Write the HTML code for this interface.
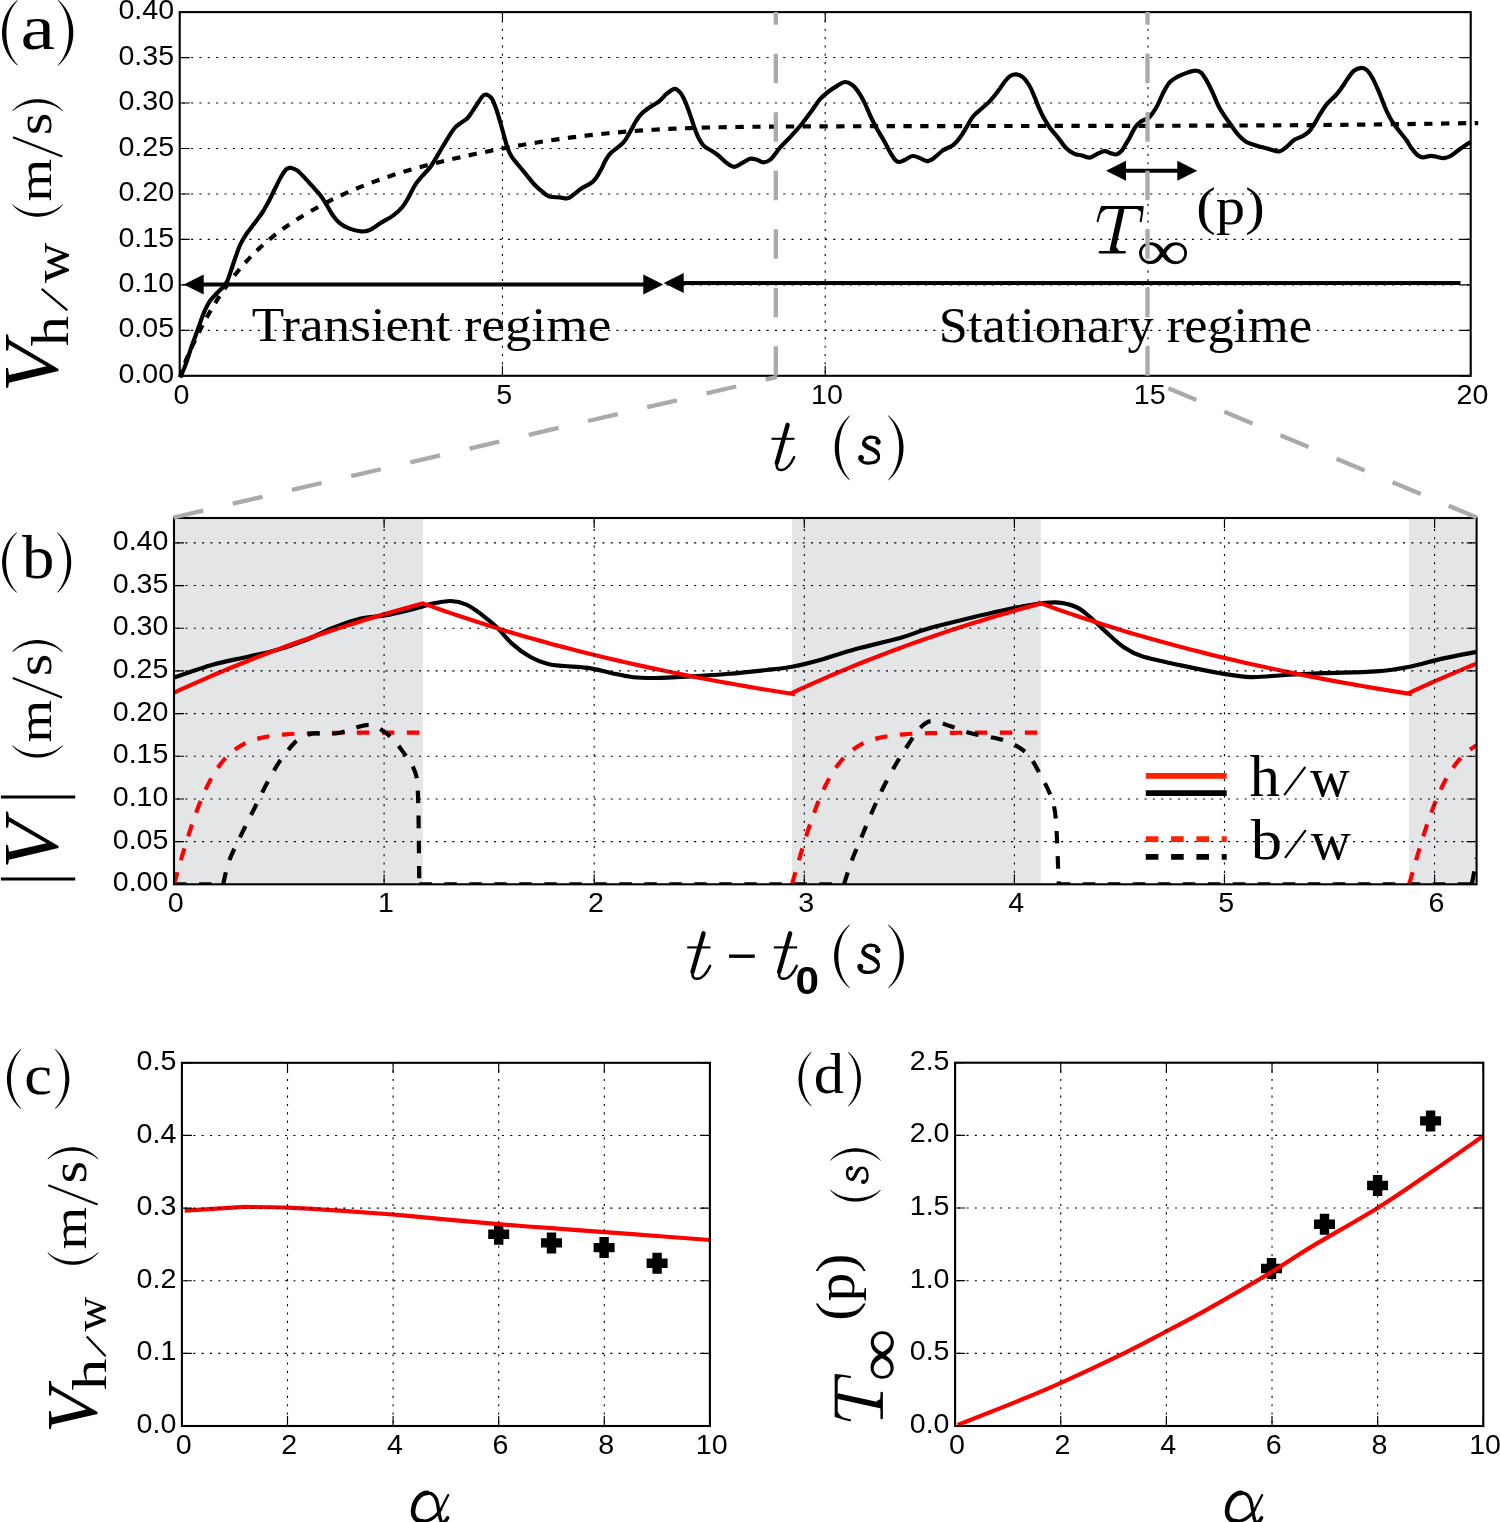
<!DOCTYPE html><html><head><meta charset="utf-8"><style>html,body{margin:0;padding:0;background:#fff;overflow:hidden}svg{display:block;will-change:transform} .tk{font-family:"Liberation Sans",sans-serif;font-size:27.9px}</style></head><body><svg width="1500" height="1522" viewBox="0 0 1500 1522">
<defs>
<clipPath id="clipa"><rect x="179.70" y="12.10" width="1291.00" height="363.70"/></clipPath>
<clipPath id="clipb"><rect x="174.00" y="518.00" width="1302.60" height="366.30"/></clipPath>
<clipPath id="clipc"><rect x="181.90" y="1062.80" width="528.00" height="363.20"/></clipPath>
<clipPath id="clipd"><rect x="955.10" y="1062.70" width="528.20" height="363.30"/></clipPath>
</defs>
<rect width="1500" height="1522" fill="#fff"/>
<rect x="174" y="518.0" width="248.80" height="366.30" fill="#e4e5e7"/>
<rect x="792" y="518.0" width="248.80" height="366.30" fill="#e4e5e7"/>
<rect x="1409.2" y="518.0" width="67.60" height="366.30" fill="#e4e5e7"/>
<g>
<path d="M180.20 377.40C180.63 375.84 181.84 370.86 182.78 368.07C183.72 365.28 184.84 363.08 185.87 360.66C186.90 358.24 187.92 355.86 188.95 353.53C189.98 351.20 191.01 348.91 192.04 346.67C193.07 344.43 194.09 342.24 195.12 340.08C196.15 337.92 197.18 335.81 198.21 333.74C199.24 331.67 200.26 329.64 201.29 327.65C202.32 325.66 203.35 323.71 204.38 321.80C205.41 319.89 206.43 318.02 207.46 316.18C208.49 314.34 209.52 312.54 210.55 310.78C211.58 309.02 212.60 307.30 213.63 305.60C214.66 303.91 215.69 302.24 216.72 300.61C217.75 298.98 218.77 297.38 219.80 295.82C220.83 294.25 221.85 292.72 222.88 291.22C223.91 289.72 224.94 288.25 225.97 286.80C227.00 285.36 228.02 283.94 229.05 282.55C230.08 281.16 231.11 279.80 232.14 278.46C233.17 277.12 234.19 275.81 235.22 274.52C236.25 273.23 237.28 271.97 238.31 270.73C239.34 269.49 240.36 268.27 241.39 267.07C242.42 265.87 243.45 264.70 244.48 263.55C245.51 262.40 246.53 261.27 247.56 260.16C248.59 259.05 249.62 257.96 250.65 256.89C251.68 255.82 252.70 254.78 253.73 253.75C254.76 252.72 255.79 251.71 256.82 250.72C257.85 249.73 258.87 248.75 259.90 247.79C260.93 246.83 261.95 245.90 262.98 244.98C264.01 244.06 265.04 243.15 266.07 242.26C267.10 241.37 268.12 240.50 269.15 239.64C270.18 238.78 271.21 237.94 272.24 237.11C273.27 236.28 274.29 235.46 275.32 234.66C276.35 233.86 277.38 233.07 278.41 232.29C279.44 231.51 280.46 230.75 281.49 230.00C282.52 229.25 283.55 228.51 284.58 227.78C285.61 227.05 286.63 226.34 287.66 225.63C288.69 224.92 289.72 224.23 290.75 223.54C291.78 222.85 292.80 222.17 293.83 221.50C294.86 220.83 295.89 220.17 296.92 219.52C297.95 218.87 298.99 218.21 300.00 217.58C301.01 216.95 300.80 217.03 303.00 215.73C305.20 214.42 309.79 211.68 313.18 209.75C316.57 207.82 319.97 205.97 323.36 204.17C326.75 202.37 330.15 200.64 333.54 198.97C336.93 197.30 340.33 195.69 343.72 194.14C347.11 192.59 350.51 191.09 353.90 189.65C357.29 188.21 360.69 186.81 364.08 185.47C367.47 184.12 370.87 182.83 374.26 181.58C377.65 180.33 381.05 179.13 384.44 177.97C387.83 176.81 391.23 175.69 394.62 174.60C398.01 173.51 401.40 172.46 404.79 171.45C408.18 170.44 411.58 169.46 414.97 168.51C418.36 167.56 421.76 166.64 425.15 165.74C428.54 164.84 431.94 163.98 435.33 163.13C438.72 162.28 442.12 161.46 445.51 160.65C448.90 159.84 452.30 159.06 455.69 158.28C459.08 157.50 462.48 156.75 465.87 156.00C469.26 155.25 472.66 154.53 476.05 153.81C479.44 153.09 482.84 152.39 486.23 151.70C489.62 151.01 493.02 150.33 496.41 149.67C499.80 149.01 503.20 148.36 506.59 147.73C509.98 147.10 513.38 146.48 516.77 145.88C520.16 145.28 523.56 144.69 526.95 144.12C530.34 143.55 533.74 142.99 537.13 142.45C540.52 141.91 543.92 141.37 547.31 140.86C550.70 140.35 554.10 139.85 557.49 139.37C560.88 138.89 564.28 138.41 567.67 137.96C571.06 137.51 574.46 137.07 577.85 136.65C581.24 136.23 584.64 135.82 588.03 135.43C591.42 135.04 594.82 134.66 598.21 134.30C601.60 133.94 604.99 133.59 608.38 133.26C611.77 132.93 615.17 132.61 618.56 132.31C621.95 132.01 625.35 131.73 628.74 131.46C632.13 131.19 635.53 130.94 638.92 130.70C642.31 130.46 645.71 130.24 649.10 130.03C652.49 129.82 655.89 129.62 659.28 129.43C662.67 129.24 666.07 129.07 669.46 128.91C672.85 128.75 676.25 128.60 679.64 128.46C683.03 128.32 686.43 128.20 689.82 128.08C693.21 127.96 694.97 127.89 700.00 127.75C705.03 127.61 710.08 127.42 720.00 127.25C729.92 127.08 746.34 126.84 759.51 126.71C772.68 126.58 785.85 126.53 799.02 126.46C812.19 126.39 825.36 126.34 838.53 126.30C851.70 126.25 864.87 126.22 878.04 126.19C891.21 126.16 904.38 126.12 917.55 126.10C930.72 126.08 943.89 126.06 957.06 126.05C970.23 126.03 983.40 126.02 996.57 126.01C1009.74 126.00 1022.91 125.98 1036.08 125.97C1049.25 125.96 1062.42 125.95 1075.59 125.93C1088.76 125.92 1101.94 125.90 1115.11 125.88C1128.28 125.86 1141.45 125.83 1154.62 125.80C1167.79 125.77 1180.96 125.73 1194.13 125.69C1207.30 125.64 1220.47 125.59 1233.64 125.53C1246.81 125.47 1259.98 125.40 1273.15 125.32C1286.32 125.24 1299.49 125.15 1312.66 125.05C1325.83 124.95 1339.00 124.83 1352.17 124.70C1365.34 124.57 1378.51 124.43 1391.68 124.27C1404.85 124.11 1418.02 123.93 1431.19 123.74C1444.36 123.55 1462.87 123.22 1470.70 123.11C1478.54 123.00 1476.95 123.06 1478.20 123.05" stroke="#000" stroke-width="4.17" fill="none" stroke-dasharray="8.3 8.5" stroke-dashoffset="1.7"/>
<path d="M180.20 377.40C181.10 375.27 183.70 369.75 185.60 364.60C187.50 359.45 189.58 352.30 191.60 346.50C193.62 340.70 195.68 335.35 197.70 329.80C199.72 324.25 201.68 317.98 203.70 313.20C205.72 308.42 207.53 304.50 209.80 301.10C212.07 297.70 215.03 295.18 217.30 292.80C219.57 290.42 221.77 288.68 223.40 286.80C225.03 284.92 225.85 284.15 227.10 281.50C228.35 278.85 229.50 274.93 230.90 270.90C232.30 266.87 233.98 261.58 235.50 257.30C237.02 253.02 238.25 248.98 240.00 245.20C241.75 241.42 243.48 238.38 246.00 234.60C248.52 230.82 252.32 226.27 255.10 222.50C257.88 218.73 260.43 215.52 262.70 212.00C264.97 208.48 266.70 205.18 268.70 201.40C270.70 197.62 272.68 193.33 274.70 189.30C276.72 185.27 278.78 180.60 280.80 177.20C282.82 173.80 285.03 170.43 286.80 168.90C288.57 167.37 289.70 167.75 291.40 168.00C293.10 168.25 295.00 169.00 297.00 170.40C299.00 171.80 301.00 173.93 303.40 176.40C305.80 178.87 308.87 182.40 311.40 185.20C313.93 188.00 316.60 190.80 318.60 193.20C320.60 195.60 321.80 197.20 323.40 199.60C325.00 202.00 326.60 204.93 328.20 207.60C329.80 210.27 331.13 213.07 333.00 215.60C334.87 218.13 336.73 220.67 339.40 222.80C342.07 224.93 345.40 226.97 349.00 228.40C352.60 229.83 357.53 231.13 361.00 231.40C364.47 231.67 366.47 231.43 369.80 230.00C373.13 228.57 377.13 225.20 381.00 222.80C384.87 220.40 389.43 218.23 393.00 215.60C396.57 212.97 399.77 210.12 402.40 207.00C405.03 203.88 406.67 200.58 408.80 196.90C410.93 193.22 412.90 188.43 415.20 184.90C417.50 181.37 420.13 178.62 422.60 175.70C425.07 172.78 427.70 170.47 430.00 167.40C432.30 164.33 434.25 160.82 436.40 157.30C438.55 153.78 440.60 150.13 442.90 146.30C445.20 142.47 448.07 137.53 450.20 134.30C452.33 131.07 453.55 129.05 455.70 126.90C457.85 124.75 460.95 123.08 463.10 121.40C465.25 119.72 466.45 119.40 468.60 116.80C470.75 114.20 473.85 109.02 476.00 105.80C478.15 102.58 479.93 99.38 481.50 97.50C483.07 95.62 483.77 94.43 485.40 94.50C487.03 94.57 489.60 95.77 491.30 97.90C493.00 100.03 494.17 103.45 495.60 107.30C497.03 111.15 498.47 116.15 499.90 121.00C501.33 125.85 502.92 131.85 504.20 136.40C505.48 140.95 506.33 144.88 507.60 148.30C508.87 151.72 510.10 154.20 511.80 156.90C513.50 159.60 515.37 161.52 517.80 164.50C520.23 167.48 523.55 171.38 526.40 174.80C529.25 178.22 532.20 182.15 534.90 185.00C537.60 187.85 540.18 189.97 542.60 191.90C545.02 193.83 546.55 195.68 549.40 196.60C552.25 197.52 556.65 197.12 559.70 197.40C562.75 197.68 565.37 198.78 567.70 198.30C570.03 197.82 571.42 196.13 573.70 194.50C575.98 192.87 578.57 190.37 581.40 188.50C584.23 186.63 588.28 185.02 590.70 183.30C593.12 181.58 594.18 180.47 595.90 178.20C597.62 175.93 599.30 172.83 601.00 169.70C602.70 166.57 604.40 162.25 606.10 159.40C607.80 156.55 608.92 154.87 611.20 152.60C613.48 150.33 617.52 147.80 619.80 145.80C622.08 143.80 623.05 143.17 624.90 140.60C626.75 138.03 629.05 133.67 630.90 130.40C632.75 127.13 634.30 123.70 636.00 121.00C637.70 118.30 638.82 116.48 641.10 114.20C643.38 111.92 646.70 109.43 649.70 107.30C652.70 105.17 656.25 103.67 659.10 101.40C661.95 99.13 664.18 95.80 666.80 93.70C669.42 91.60 672.53 88.95 674.80 88.80C677.07 88.65 678.67 90.67 680.40 92.80C682.13 94.93 683.60 98.00 685.20 101.60C686.80 105.20 688.53 110.27 690.00 114.40C691.47 118.53 692.67 122.67 694.00 126.40C695.33 130.13 696.40 133.60 698.00 136.80C699.60 140.00 701.33 143.27 703.60 145.60C705.87 147.93 709.20 149.20 711.60 150.80C714.00 152.40 715.60 153.27 718.00 155.20C720.40 157.13 723.33 160.47 726.00 162.40C728.67 164.33 731.33 166.67 734.00 166.80C736.67 166.93 739.33 164.53 742.00 163.20C744.67 161.87 747.60 159.40 750.00 158.80C752.40 158.20 754.13 159.00 756.40 159.60C758.67 160.20 761.20 162.47 763.60 162.40C766.00 162.33 768.00 161.73 770.80 159.20C773.60 156.67 777.13 150.93 780.40 147.20C783.67 143.47 786.73 140.80 790.40 136.80C794.07 132.80 798.80 127.60 802.40 123.20C806.00 118.80 809.07 114.40 812.00 110.40C814.93 106.40 817.33 102.27 820.00 99.20C822.67 96.13 825.07 94.27 828.00 92.00C830.93 89.73 834.80 87.27 837.60 85.60C840.40 83.93 842.40 82.13 844.80 82.00C847.20 81.87 849.73 83.13 852.00 84.80C854.27 86.47 856.40 89.20 858.40 92.00C860.40 94.80 862.00 97.60 864.00 101.60C866.00 105.60 868.40 111.73 870.40 116.00C872.40 120.27 873.73 123.07 876.00 127.20C878.27 131.33 881.60 136.53 884.00 140.80C886.40 145.07 888.53 149.60 890.40 152.80C892.27 156.00 893.77 158.47 895.20 160.00C896.63 161.53 897.43 162.00 899.00 162.00C900.57 162.00 902.33 161.00 904.60 160.00C906.87 159.00 909.93 156.27 912.60 156.00C915.27 155.73 918.20 157.53 920.60 158.40C923.00 159.27 924.87 161.20 927.00 161.20C929.13 161.20 930.73 160.20 933.40 158.40C936.07 156.60 939.67 152.67 943.00 150.40C946.33 148.13 950.47 147.07 953.40 144.80C956.33 142.53 958.33 139.87 960.60 136.80C962.87 133.73 964.87 129.87 967.00 126.40C969.13 122.93 971.00 118.93 973.40 116.00C975.80 113.07 978.73 111.20 981.40 108.80C984.07 106.40 986.73 104.40 989.40 101.60C992.07 98.80 994.73 95.47 997.40 92.00C1000.07 88.53 1003.27 83.47 1005.40 80.80C1007.53 78.13 1008.37 77.07 1010.20 76.00C1012.03 74.93 1014.30 74.20 1016.40 74.40C1018.50 74.60 1020.80 75.60 1022.80 77.20C1024.80 78.80 1026.67 81.27 1028.40 84.00C1030.13 86.73 1031.60 90.00 1033.20 93.60C1034.80 97.20 1036.27 101.60 1038.00 105.60C1039.73 109.60 1041.60 113.87 1043.60 117.60C1045.60 121.33 1047.60 124.67 1050.00 128.00C1052.40 131.33 1055.33 134.27 1058.00 137.60C1060.67 140.93 1063.33 145.33 1066.00 148.00C1068.67 150.67 1071.33 152.33 1074.00 153.60C1076.67 154.87 1079.33 154.93 1082.00 155.60C1084.67 156.27 1087.60 157.80 1090.00 157.60C1092.40 157.40 1094.00 155.47 1096.40 154.40C1098.80 153.33 1102.00 151.40 1104.40 151.20C1106.80 151.00 1108.80 152.67 1110.80 153.20C1112.80 153.73 1114.53 154.87 1116.40 154.40C1118.27 153.93 1120.27 152.40 1122.00 150.40C1123.73 148.40 1125.50 144.57 1126.80 142.40C1128.10 140.23 1128.37 139.97 1129.80 137.40C1131.23 134.83 1133.53 129.67 1135.40 127.00C1137.27 124.33 1138.87 122.87 1141.00 121.40C1143.13 119.93 1146.20 119.67 1148.20 118.20C1150.20 116.73 1151.40 114.87 1153.00 112.60C1154.60 110.33 1156.07 107.93 1157.80 104.60C1159.53 101.27 1161.40 96.33 1163.40 92.60C1165.40 88.87 1167.40 84.87 1169.80 82.20C1172.20 79.53 1174.87 78.20 1177.80 76.60C1180.73 75.00 1184.47 73.60 1187.40 72.60C1190.33 71.60 1193.13 70.60 1195.40 70.60C1197.67 70.60 1199.13 70.93 1201.00 72.60C1202.87 74.27 1204.60 77.13 1206.60 80.60C1208.60 84.07 1211.00 89.13 1213.00 93.40C1215.00 97.67 1216.60 102.33 1218.60 106.20C1220.60 110.07 1222.87 113.40 1225.00 116.60C1227.13 119.80 1229.40 122.60 1231.40 125.40C1233.40 128.20 1234.63 130.73 1237.00 133.40C1239.37 136.07 1242.43 139.40 1245.60 141.40C1248.77 143.40 1252.53 144.27 1256.00 145.40C1259.47 146.53 1262.53 147.20 1266.40 148.20C1270.27 149.20 1275.87 151.60 1279.20 151.40C1282.53 151.20 1283.87 148.93 1286.40 147.00C1288.93 145.07 1291.73 141.60 1294.40 139.80C1297.07 138.00 1300.00 137.53 1302.40 136.20C1304.80 134.87 1306.80 133.87 1308.80 131.80C1310.80 129.73 1312.53 126.73 1314.40 123.80C1316.27 120.87 1318.00 117.40 1320.00 114.20C1322.00 111.00 1323.73 107.80 1326.40 104.60C1329.07 101.40 1333.47 97.80 1336.00 95.00C1338.53 92.20 1339.60 90.60 1341.60 87.80C1343.60 85.00 1346.00 81.00 1348.00 78.20C1350.00 75.40 1351.37 72.73 1353.60 71.00C1355.83 69.27 1359.17 67.93 1361.40 67.80C1363.63 67.67 1365.13 68.47 1367.00 70.20C1368.87 71.93 1370.73 74.87 1372.60 78.20C1374.47 81.53 1376.47 86.20 1378.20 90.20C1379.93 94.20 1381.53 98.60 1383.00 102.20C1384.47 105.80 1385.40 108.47 1387.00 111.80C1388.60 115.13 1390.47 118.87 1392.60 122.20C1394.73 125.53 1397.53 128.87 1399.80 131.80C1402.07 134.73 1404.20 137.00 1406.20 139.80C1408.20 142.60 1409.93 146.07 1411.80 148.60C1413.67 151.13 1415.53 153.53 1417.40 155.00C1419.27 156.47 1420.73 157.27 1423.00 157.40C1425.27 157.53 1428.60 155.87 1431.00 155.80C1433.40 155.73 1435.27 156.60 1437.40 157.00C1439.53 157.40 1441.53 158.40 1443.80 158.20C1446.07 158.00 1448.47 157.20 1451.00 155.80C1453.53 154.40 1455.72 152.12 1459.00 149.80C1462.28 147.48 1468.75 143.22 1470.70 141.90" stroke="#000" stroke-width="4.17" fill="none" stroke-linejoin="round"/>
</g>
<path d="M200 284.5H647M680 283.0H1460.5" stroke="#000" stroke-width="4.0" fill="none"/>
<path d="M183.70 284.50L203.70 274.50L203.70 294.50ZM663.30 284.50L643.30 274.50L643.30 294.50ZM663.70 283.00L683.70 273.00L683.70 293.00Z" fill="#000"/>
<path d="M1120 170.7H1183" stroke="#000" stroke-width="4.1" fill="none"/>
<path d="M1106.00 170.70L1126.00 160.70L1126.00 180.70ZM1197.30 170.70L1177.30 160.70L1177.30 180.70Z" fill="#000"/>
<g clip-path="url(#clipb)">
<path d="M174 884.3H223.1M419.3 884.3H844M1057.8 884.3H1471.9" stroke="#000" stroke-width="4.17" stroke-dasharray="12.5 12.5" fill="none"/>
<path d="M174.30 677.50C180.80 675.33 201.02 667.97 213.30 664.50C225.58 661.03 237.30 659.15 248.00 656.70C258.70 654.25 267.97 652.53 277.50 649.80C287.03 647.07 295.67 644.05 305.20 640.30C314.73 636.55 325.45 630.92 334.70 627.30C343.95 623.68 352.03 620.63 360.70 618.60C369.37 616.57 378.03 616.68 386.70 615.10C395.37 613.52 406.72 610.55 412.70 609.10C418.68 607.65 419.05 607.35 422.60 606.40C426.15 605.45 429.30 604.30 434.00 603.40C438.70 602.50 445.40 600.80 450.80 601.00C456.20 601.20 461.20 602.30 466.40 604.60C471.60 606.90 476.80 610.90 482.00 614.80C487.20 618.70 492.60 623.20 497.60 628.00C502.60 632.80 506.60 638.80 512.00 643.60C517.40 648.40 524.00 653.40 530.00 656.80C536.00 660.20 542.33 662.47 548.00 664.00C553.67 665.53 557.33 665.35 564.00 666.00C570.67 666.65 580.00 666.70 588.00 667.90C596.00 669.10 604.45 671.65 612.00 673.20C619.55 674.75 626.18 676.40 633.30 677.20C640.42 678.00 645.80 678.08 654.70 678.00C663.60 677.92 674.70 677.37 686.70 676.70C698.70 676.03 713.37 675.12 726.70 674.00C740.03 672.88 755.60 671.25 766.70 670.00C777.80 668.75 784.42 668.17 793.30 666.50C802.18 664.83 809.55 662.92 820.00 660.00C830.45 657.08 842.67 652.67 856.00 649.00C869.33 645.33 887.67 641.50 900.00 638.00C912.33 634.50 918.33 631.33 930.00 628.00C941.67 624.67 958.33 620.83 970.00 618.00C981.67 615.17 990.00 613.17 1000.00 611.00C1010.00 608.83 1020.67 606.43 1030.00 605.00C1039.33 603.57 1048.33 602.07 1056.00 602.40C1063.67 602.73 1070.33 604.57 1076.00 607.00C1081.67 609.43 1085.07 612.90 1090.00 617.00C1094.93 621.10 1099.97 626.57 1105.60 631.60C1111.23 636.63 1117.73 643.08 1123.80 647.20C1129.87 651.32 1132.47 653.27 1142.00 656.30C1151.53 659.33 1168.00 662.58 1181.00 665.40C1194.00 668.22 1208.30 671.25 1220.00 673.20C1231.70 675.15 1240.37 676.80 1251.20 677.10C1262.03 677.40 1272.87 675.65 1285.00 675.00C1297.13 674.35 1308.83 673.80 1324.00 673.20C1339.17 672.60 1361.70 672.48 1376.00 671.40C1390.30 670.32 1398.97 668.78 1409.80 666.70C1420.63 664.62 1429.83 661.38 1441.00 658.90C1452.17 656.42 1470.83 652.98 1476.80 651.80" stroke="#000" stroke-width="4.17" fill="none"/>
<path d="M174.30 692.60L180.52 689.71L186.74 686.87L192.95 684.06L199.17 681.29L205.39 678.56L211.61 675.87L217.82 673.21L224.04 670.59L230.26 668.01L236.48 665.46L242.69 662.95L248.91 660.47L255.13 658.02L261.35 655.61L267.56 653.24L273.78 650.89L280.00 648.58L286.22 646.29L292.43 644.04L298.65 641.83L304.87 639.64L311.09 637.48L317.30 635.35L323.52 633.25L329.74 631.18L335.96 629.13L342.17 627.12L348.39 625.13L354.61 623.17L360.83 621.24L367.04 619.33L373.26 617.45L379.48 615.60L385.69 613.77L391.91 611.96L398.13 610.19L404.35 608.43L410.57 606.70L416.78 604.99L423.00 603.31L423.00 603.31L432.25 606.65L441.49 609.92L450.74 613.12L459.98 616.26L469.23 619.32L478.47 622.32L487.71 625.26L496.96 628.13L506.20 630.95L515.45 633.70L524.69 636.40L533.94 639.03L543.18 641.62L552.43 644.14L561.67 646.62L570.92 649.04L580.16 651.41L589.41 653.72L598.65 655.99L607.90 658.21L617.14 660.39L626.39 662.52L635.63 664.60L644.88 666.64L654.12 668.63L663.37 670.58L672.62 672.49L681.86 674.36L691.11 676.19L700.35 677.98L709.60 679.74L718.84 681.45L728.08 683.13L737.33 684.78L746.57 686.39L755.82 687.96L765.06 689.50L774.31 691.01L783.55 692.49L792.80 693.93L792.80 692.60L799.00 689.72L805.20 686.88L811.40 684.08L817.60 681.32L823.80 678.60L830.00 675.91L836.20 673.27L842.40 670.65L848.60 668.07L854.80 665.53L861.00 663.03L867.20 660.55L873.40 658.11L879.60 655.71L885.80 653.34L892.00 650.99L898.20 648.69L904.40 646.41L910.60 644.16L916.80 641.95L923.00 639.76L929.20 637.61L935.40 635.48L941.60 633.39L947.80 631.32L954.00 629.28L960.20 627.27L966.40 625.29L972.60 623.33L978.80 621.40L985.00 619.50L991.20 617.62L997.40 615.77L1003.60 613.94L1009.80 612.14L1016.00 610.36L1022.20 608.61L1028.40 606.88L1034.60 605.18L1040.80 603.50L1040.80 603.31L1050.02 606.64L1059.25 609.91L1068.47 613.10L1077.70 616.23L1086.92 619.29L1096.15 622.28L1105.38 625.22L1114.60 628.09L1123.83 630.89L1133.05 633.64L1142.27 636.33L1151.50 638.97L1160.72 641.54L1169.95 644.07L1179.17 646.54L1188.40 648.95L1197.62 651.32L1206.85 653.63L1216.08 655.90L1225.30 658.12L1234.52 660.29L1243.75 662.42L1252.97 664.50L1262.20 666.53L1271.42 668.52L1280.65 670.47L1289.88 672.38L1299.10 674.25L1308.32 676.08L1317.55 677.87L1326.78 679.62L1336.00 681.34L1345.22 683.01L1354.45 684.66L1363.67 686.27L1372.90 687.84L1382.12 689.38L1391.35 690.89L1400.57 692.36L1409.80 693.81L1409.80 692.60L1411.56 691.78L1413.31 690.97L1415.07 690.15L1416.82 689.34L1418.58 688.54L1420.33 687.74L1422.09 686.94L1423.84 686.14L1425.60 685.35L1427.35 684.56L1429.11 683.77L1430.86 682.98L1432.62 682.20L1434.37 681.43L1436.12 680.65L1437.88 679.88L1439.63 679.11L1441.39 678.34L1443.14 677.58L1444.90 676.82L1446.65 676.06L1448.41 675.31L1450.16 674.56L1451.92 673.81L1453.67 673.06L1455.43 672.32L1457.18 671.58L1458.94 670.84L1460.69 670.11L1462.45 669.38L1464.20 668.65L1465.96 667.93L1467.71 667.20L1469.47 666.48L1471.22 665.77L1472.98 665.05L1474.73 664.34L1476.49 663.63L1478.24 662.93L1480.00 662.22" stroke="#ff0000" stroke-width="4.17" fill="none" stroke-linejoin="miter"/>
<path d="M174.00 884.30L178.15 869.74L182.29 855.45L186.44 841.67L190.59 828.62L194.73 816.45L198.88 805.29L203.03 795.19L207.17 786.16L211.32 778.20L215.47 771.23L219.61 765.20L223.76 760.01L227.91 755.58L232.05 751.81L236.20 748.63L240.35 745.95L244.49 743.70L248.64 741.82L252.79 740.25L256.93 738.95L261.08 737.86L265.23 736.96L269.37 736.21L273.52 735.59L277.67 735.08L281.81 734.65L285.96 734.30L290.10 734.01L294.25 733.77L298.40 733.57L302.54 733.41L306.69 733.27L310.84 733.16L314.98 733.07L319.13 732.99L323.28 732.93L327.42 732.88L331.57 732.83L335.72 732.80L339.86 732.77L344.01 732.75L348.16 732.73L352.30 732.71L356.45 732.70L360.60 732.69L364.74 732.68L368.89 732.67L373.04 732.66L377.18 732.66L381.33 732.65L385.48 732.65L389.62 732.65L393.77 732.64L397.92 732.64L402.06 732.64L406.21 732.64L410.36 732.64L414.50 732.64L418.65 732.64L422.80 732.64" stroke="#ff0000" stroke-width="4.17" fill="none" stroke-dasharray="12.5 12.5"/>
<path d="M791.99 884.30L796.14 869.74L800.28 855.45L804.43 841.67L808.58 828.62L812.72 816.45L816.87 805.29L821.02 795.19L825.16 786.16L829.31 778.20L833.46 771.23L837.60 765.20L841.75 760.01L845.90 755.58L850.04 751.81L854.19 748.63L858.34 745.95L862.48 743.70L866.63 741.82L870.78 740.25L874.92 738.95L879.07 737.86L883.22 736.96L887.36 736.21L891.51 735.59L895.66 735.08L899.80 734.65L903.95 734.30L908.10 734.01L912.24 733.77L916.39 733.57L920.54 733.41L924.68 733.27L928.83 733.16L932.98 733.07L937.12 732.99L941.27 732.93L945.41 732.88L949.56 732.83L953.71 732.80L957.85 732.77L962.00 732.75L966.15 732.73L970.29 732.71L974.44 732.70L978.59 732.69L982.73 732.68L986.88 732.67L991.03 732.66L995.17 732.66L999.32 732.65L1003.47 732.65L1007.61 732.65L1011.76 732.64L1015.91 732.64L1020.05 732.64L1024.20 732.64L1028.35 732.64L1032.49 732.64L1036.64 732.64L1040.79 732.64" stroke="#ff0000" stroke-width="4.17" fill="none" stroke-dasharray="12.5 12.5"/>
<path d="M1409.18 884.30L1410.30 880.34L1411.43 876.39L1412.55 872.45L1413.68 868.53L1414.80 864.63L1415.92 860.75L1417.05 856.91L1418.17 853.10L1419.29 849.33L1420.42 845.61L1421.54 841.93L1422.66 838.31L1423.79 834.75L1424.91 831.24L1426.04 827.80L1427.16 824.43L1428.28 821.12L1429.41 817.89L1430.53 814.73L1431.65 811.64L1432.78 808.63L1433.90 805.70L1435.02 802.84L1436.15 800.07L1437.27 797.37L1438.40 794.75L1439.52 792.21L1440.64 789.76L1441.77 787.38L1442.89 785.07L1444.01 782.85L1445.14 780.70L1446.26 778.63L1447.39 776.63L1448.51 774.70L1449.63 772.85L1450.76 771.06L1451.88 769.34L1453.00 767.69L1454.13 766.11L1455.25 764.58L1456.37 763.12L1457.50 761.72L1458.62 760.38L1459.75 759.09L1460.87 757.86L1461.99 756.68L1463.12 755.55L1464.24 754.47L1465.36 753.43L1466.49 752.44L1467.61 751.50L1468.73 750.60L1469.86 749.73L1470.98 748.91L1472.11 748.13L1473.23 747.38L1474.35 746.66L1475.48 745.98L1476.60 745.33" stroke="#ff0000" stroke-width="4.17" fill="none" stroke-dasharray="12.5 12.5"/>
<path d="M223.10 884.30C224.15 880.28 226.25 868.72 229.40 860.20C232.55 851.68 237.80 841.90 242.00 833.20C246.20 824.50 250.40 816.40 254.60 808.00C258.80 799.60 263.00 790.60 267.20 782.80C271.40 775.00 275.60 767.50 279.80 761.20C284.00 754.90 288.98 748.82 292.40 745.00C295.82 741.18 297.00 740.20 300.30 738.30C303.60 736.40 308.17 734.33 312.20 733.60C316.23 732.87 320.27 733.97 324.50 733.90C328.73 733.83 333.38 733.85 337.60 733.20C341.82 732.55 346.40 731.03 349.80 730.00C353.20 728.97 354.90 727.85 358.00 727.00C361.10 726.15 365.40 724.93 368.40 724.90C371.40 724.87 373.03 725.42 376.00 726.80C378.97 728.18 382.95 730.65 386.20 733.20C389.45 735.75 392.70 738.98 395.50 742.10C398.30 745.22 400.52 748.48 403.00 751.90C405.48 755.32 408.30 759.02 410.40 762.60C412.50 766.18 414.43 769.50 415.60 773.40C416.77 777.30 416.93 779.90 417.40 786.00C417.87 792.10 418.08 793.62 418.40 810.00C418.72 826.38 419.15 871.92 419.30 884.30" stroke="#000" stroke-width="4.17" fill="none" stroke-dasharray="12.5 12.5"/>
<path d="M844.00 884.30C845.33 880.25 849.00 868.05 852.00 860.00C855.00 851.95 858.67 844.00 862.00 836.00C865.33 828.00 868.50 820.00 872.00 812.00C875.50 804.00 879.00 796.00 883.00 788.00C887.00 780.00 891.83 771.17 896.00 764.00C900.17 756.83 904.00 751.00 908.00 745.00C912.00 739.00 916.00 732.00 920.00 728.00C924.00 724.00 927.00 721.33 932.00 721.00C937.00 720.67 943.67 724.00 950.00 726.00C956.33 728.00 963.33 731.17 970.00 733.00C976.67 734.83 984.00 735.67 990.00 737.00C996.00 738.33 1001.00 739.17 1006.00 741.00C1011.00 742.83 1016.00 745.33 1020.00 748.00C1024.00 750.67 1026.67 752.67 1030.00 757.00C1033.33 761.33 1036.67 767.83 1040.00 774.00C1043.33 780.17 1047.50 787.67 1050.00 794.00C1052.50 800.33 1053.83 804.33 1055.00 812.00C1056.17 819.67 1056.43 829.33 1057.00 840.00C1057.57 850.67 1058.10 868.62 1058.40 876.00C1058.70 883.38 1058.73 882.92 1058.80 884.30" stroke="#000" stroke-width="4.17" fill="none" stroke-dasharray="12.5 12.5"/>
<path d="M1471.90 883.70L1476.80 858.00" stroke="#000" stroke-width="4.17" fill="none" stroke-dasharray="12.5 12.5"/>
</g>
<line x1="502.45" y1="375.80" x2="502.45" y2="12.10" stroke="#000" stroke-width="1.1" stroke-dasharray="2.1 6.24" stroke-dashoffset="5.3" fill="none"/>
<line x1="825.20" y1="375.80" x2="825.20" y2="12.10" stroke="#000" stroke-width="1.1" stroke-dasharray="2.1 6.24" stroke-dashoffset="5.3" fill="none"/>
<line x1="1147.95" y1="375.80" x2="1147.95" y2="12.10" stroke="#000" stroke-width="1.1" stroke-dasharray="2.1 6.24" stroke-dashoffset="5.3" fill="none"/>
<line x1="179.70" y1="330.34" x2="1470.70" y2="330.34" stroke="#000" stroke-width="1.1" stroke-dasharray="2.1 6.24" stroke-dashoffset="5.3" fill="none"/>
<line x1="179.70" y1="284.88" x2="1470.70" y2="284.88" stroke="#000" stroke-width="1.1" stroke-dasharray="2.1 6.24" stroke-dashoffset="5.3" fill="none"/>
<line x1="179.70" y1="239.41" x2="1470.70" y2="239.41" stroke="#000" stroke-width="1.1" stroke-dasharray="2.1 6.24" stroke-dashoffset="5.3" fill="none"/>
<line x1="179.70" y1="193.95" x2="1470.70" y2="193.95" stroke="#000" stroke-width="1.1" stroke-dasharray="2.1 6.24" stroke-dashoffset="5.3" fill="none"/>
<line x1="179.70" y1="148.49" x2="1470.70" y2="148.49" stroke="#000" stroke-width="1.1" stroke-dasharray="2.1 6.24" stroke-dashoffset="5.3" fill="none"/>
<line x1="179.70" y1="103.02" x2="1470.70" y2="103.02" stroke="#000" stroke-width="1.1" stroke-dasharray="2.1 6.24" stroke-dashoffset="5.3" fill="none"/>
<line x1="179.70" y1="57.56" x2="1470.70" y2="57.56" stroke="#000" stroke-width="1.1" stroke-dasharray="2.1 6.24" stroke-dashoffset="5.3" fill="none"/>
<line x1="384.10" y1="884.30" x2="384.10" y2="518.00" stroke="#000" stroke-width="1.1" stroke-dasharray="2.1 6.24" stroke-dashoffset="5.3" fill="none"/>
<line x1="594.19" y1="884.30" x2="594.19" y2="518.00" stroke="#000" stroke-width="1.1" stroke-dasharray="2.1 6.24" stroke-dashoffset="5.3" fill="none"/>
<line x1="804.29" y1="884.30" x2="804.29" y2="518.00" stroke="#000" stroke-width="1.1" stroke-dasharray="2.1 6.24" stroke-dashoffset="5.3" fill="none"/>
<line x1="1014.39" y1="884.30" x2="1014.39" y2="518.00" stroke="#000" stroke-width="1.1" stroke-dasharray="2.1 6.24" stroke-dashoffset="5.3" fill="none"/>
<line x1="1224.48" y1="884.30" x2="1224.48" y2="518.00" stroke="#000" stroke-width="1.1" stroke-dasharray="2.1 6.24" stroke-dashoffset="5.3" fill="none"/>
<line x1="1434.58" y1="884.30" x2="1434.58" y2="518.00" stroke="#000" stroke-width="1.1" stroke-dasharray="2.1 6.24" stroke-dashoffset="5.3" fill="none"/>
<line x1="174.00" y1="841.62" x2="1476.60" y2="841.62" stroke="#000" stroke-width="1.1" stroke-dasharray="2.1 6.24" stroke-dashoffset="5.3" fill="none"/>
<line x1="174.00" y1="798.95" x2="1476.60" y2="798.95" stroke="#000" stroke-width="1.1" stroke-dasharray="2.1 6.24" stroke-dashoffset="5.3" fill="none"/>
<line x1="174.00" y1="756.27" x2="1476.60" y2="756.27" stroke="#000" stroke-width="1.1" stroke-dasharray="2.1 6.24" stroke-dashoffset="5.3" fill="none"/>
<line x1="174.00" y1="713.60" x2="1476.60" y2="713.60" stroke="#000" stroke-width="1.1" stroke-dasharray="2.1 6.24" stroke-dashoffset="5.3" fill="none"/>
<line x1="174.00" y1="670.92" x2="1476.60" y2="670.92" stroke="#000" stroke-width="1.1" stroke-dasharray="2.1 6.24" stroke-dashoffset="5.3" fill="none"/>
<line x1="174.00" y1="628.25" x2="1476.60" y2="628.25" stroke="#000" stroke-width="1.1" stroke-dasharray="2.1 6.24" stroke-dashoffset="5.3" fill="none"/>
<line x1="174.00" y1="585.57" x2="1476.60" y2="585.57" stroke="#000" stroke-width="1.1" stroke-dasharray="2.1 6.24" stroke-dashoffset="5.3" fill="none"/>
<line x1="174.00" y1="542.90" x2="1476.60" y2="542.90" stroke="#000" stroke-width="1.1" stroke-dasharray="2.1 6.24" stroke-dashoffset="5.3" fill="none"/>
<path d="M1145.8 775.9H1226.7" stroke="#ff2200" stroke-width="5.8"/>
<path d="M1145.8 793.2H1226.7" stroke="#000" stroke-width="5.8"/>
<path d="M1145.8 839.1H1226.7" stroke="#ff2200" stroke-width="5.8" stroke-dasharray="12.6 12.7"/>
<path d="M1145.8 856.8H1226.7" stroke="#000" stroke-width="5.8" stroke-dasharray="12.6 12.7"/>
<path d="M494.00 1223.80H503.40V1229.60H509.20V1239.00H503.40V1244.80H494.00V1239.00H488.20V1229.60H494.00ZM546.80 1232.40H556.20V1238.20H562.00V1247.60H556.20V1253.40H546.80V1247.60H541.00V1238.20H546.80ZM599.40 1237.10H608.80V1242.90H614.60V1252.30H608.80V1258.10H599.40V1252.30H593.60V1242.90H599.40ZM652.40 1252.70H661.80V1258.50H667.60V1267.90H661.80V1273.70H652.40V1267.90H646.60V1258.50H652.40Z" fill="#000"/>
<g clip-path="url(#clipc)"><path d="M184.70 1210.60L244.80 1206.90L244.80 1206.90C252.00 1207.02 272.13 1206.98 288.00 1207.60C303.87 1208.22 322.60 1209.45 340.00 1210.60C357.40 1211.75 374.90 1213.05 392.40 1214.50C409.90 1215.95 427.30 1217.68 445.00 1219.30C462.70 1220.92 480.85 1222.72 498.60 1224.20C516.35 1225.68 533.80 1226.88 551.50 1228.20C569.20 1229.52 587.22 1230.80 604.80 1232.10C622.38 1233.40 639.48 1234.68 657.00 1236.00C674.52 1237.32 701.08 1239.33 709.90 1240.00" stroke="#ff0000" stroke-width="4.17" fill="none" stroke-linejoin="round"/></g>
<line x1="287.50" y1="1426.00" x2="287.50" y2="1062.80" stroke="#000" stroke-width="1.1" stroke-dasharray="2.1 6.24" stroke-dashoffset="5.3" fill="none"/>
<line x1="393.10" y1="1426.00" x2="393.10" y2="1062.80" stroke="#000" stroke-width="1.1" stroke-dasharray="2.1 6.24" stroke-dashoffset="5.3" fill="none"/>
<line x1="498.70" y1="1426.00" x2="498.70" y2="1062.80" stroke="#000" stroke-width="1.1" stroke-dasharray="2.1 6.24" stroke-dashoffset="5.3" fill="none"/>
<line x1="604.30" y1="1426.00" x2="604.30" y2="1062.80" stroke="#000" stroke-width="1.1" stroke-dasharray="2.1 6.24" stroke-dashoffset="5.3" fill="none"/>
<line x1="181.90" y1="1353.36" x2="709.90" y2="1353.36" stroke="#000" stroke-width="1.1" stroke-dasharray="2.1 6.24" stroke-dashoffset="5.3" fill="none"/>
<line x1="181.90" y1="1280.72" x2="709.90" y2="1280.72" stroke="#000" stroke-width="1.1" stroke-dasharray="2.1 6.24" stroke-dashoffset="5.3" fill="none"/>
<line x1="181.90" y1="1208.08" x2="709.90" y2="1208.08" stroke="#000" stroke-width="1.1" stroke-dasharray="2.1 6.24" stroke-dashoffset="5.3" fill="none"/>
<line x1="181.90" y1="1135.44" x2="709.90" y2="1135.44" stroke="#000" stroke-width="1.1" stroke-dasharray="2.1 6.24" stroke-dashoffset="5.3" fill="none"/>
<path d="M1266.80 1258.00H1276.20V1263.80H1282.00V1273.20H1276.20V1279.00H1266.80V1273.20H1261.00V1263.80H1266.80ZM1319.80 1213.70H1329.20V1219.50H1335.00V1228.90H1329.20V1234.70H1319.80V1228.90H1314.00V1219.50H1319.80ZM1372.90 1175.00H1382.30V1180.80H1388.10V1190.20H1382.30V1196.00H1372.90V1190.20H1367.10V1180.80H1372.90ZM1425.90 1110.40H1435.30V1116.20H1441.10V1125.60H1435.30V1131.40H1425.90V1125.60H1420.10V1116.20H1425.90Z" fill="#000"/>
<g clip-path="url(#clipd)"><path d="M957.70 1425.00L1014.80 1402.40L1014.80 1402.40C1022.30 1399.22 1041.80 1391.40 1059.80 1383.30C1077.80 1375.20 1105.10 1362.43 1122.80 1353.80C1140.50 1345.17 1152.80 1338.40 1166.00 1331.50C1179.20 1324.60 1184.42 1322.30 1202.00 1312.40C1219.58 1302.50 1253.50 1282.90 1271.50 1272.10C1289.50 1261.30 1292.32 1258.28 1310.00 1247.60C1327.68 1236.92 1357.80 1220.30 1377.60 1208.00C1397.40 1195.70 1411.18 1185.80 1428.80 1173.80C1446.42 1161.80 1474.22 1142.30 1483.30 1136.00" stroke="#ff0000" stroke-width="4.17" fill="none" stroke-linejoin="round"/></g>
<line x1="1060.74" y1="1426.00" x2="1060.74" y2="1062.70" stroke="#000" stroke-width="1.1" stroke-dasharray="2.1 6.24" stroke-dashoffset="5.3" fill="none"/>
<line x1="1166.38" y1="1426.00" x2="1166.38" y2="1062.70" stroke="#000" stroke-width="1.1" stroke-dasharray="2.1 6.24" stroke-dashoffset="5.3" fill="none"/>
<line x1="1272.02" y1="1426.00" x2="1272.02" y2="1062.70" stroke="#000" stroke-width="1.1" stroke-dasharray="2.1 6.24" stroke-dashoffset="5.3" fill="none"/>
<line x1="1377.66" y1="1426.00" x2="1377.66" y2="1062.70" stroke="#000" stroke-width="1.1" stroke-dasharray="2.1 6.24" stroke-dashoffset="5.3" fill="none"/>
<line x1="955.10" y1="1353.34" x2="1483.30" y2="1353.34" stroke="#000" stroke-width="1.1" stroke-dasharray="2.1 6.24" stroke-dashoffset="5.3" fill="none"/>
<line x1="955.10" y1="1280.68" x2="1483.30" y2="1280.68" stroke="#000" stroke-width="1.1" stroke-dasharray="2.1 6.24" stroke-dashoffset="5.3" fill="none"/>
<line x1="955.10" y1="1208.02" x2="1483.30" y2="1208.02" stroke="#000" stroke-width="1.1" stroke-dasharray="2.1 6.24" stroke-dashoffset="5.3" fill="none"/>
<line x1="955.10" y1="1135.36" x2="1483.30" y2="1135.36" stroke="#000" stroke-width="1.1" stroke-dasharray="2.1 6.24" stroke-dashoffset="5.3" fill="none"/>
<path d="M179.70 375.80V365.80M179.70 12.10V22.10M502.45 375.80V365.80M502.45 12.10V22.10M825.20 375.80V365.80M825.20 12.10V22.10M1147.95 375.80V365.80M1147.95 12.10V22.10M1470.70 375.80V365.80M1470.70 12.10V22.10M179.70 375.80H189.70M1470.70 375.80H1460.70M179.70 330.34H189.70M1470.70 330.34H1460.70M179.70 284.88H189.70M1470.70 284.88H1460.70M179.70 239.41H189.70M1470.70 239.41H1460.70M179.70 193.95H189.70M1470.70 193.95H1460.70M179.70 148.49H189.70M1470.70 148.49H1460.70M179.70 103.02H189.70M1470.70 103.02H1460.70M179.70 57.56H189.70M1470.70 57.56H1460.70M179.70 12.10H189.70M1470.70 12.10H1460.70" stroke="#000" stroke-width="1.15" fill="none"/>
<rect x="179.70" y="12.10" width="1291.00" height="363.70" fill="none" stroke="#000" stroke-width="2.1"/>
<path d="M174.00 884.30V874.30M174.00 518.00V528.00M384.10 884.30V874.30M384.10 518.00V528.00M594.19 884.30V874.30M594.19 518.00V528.00M804.29 884.30V874.30M804.29 518.00V528.00M1014.39 884.30V874.30M1014.39 518.00V528.00M1224.48 884.30V874.30M1224.48 518.00V528.00M1434.58 884.30V874.30M1434.58 518.00V528.00M174.00 884.30H184.00M1476.60 884.30H1466.60M174.00 841.62H184.00M1476.60 841.62H1466.60M174.00 798.95H184.00M1476.60 798.95H1466.60M174.00 756.27H184.00M1476.60 756.27H1466.60M174.00 713.60H184.00M1476.60 713.60H1466.60M174.00 670.92H184.00M1476.60 670.92H1466.60M174.00 628.25H184.00M1476.60 628.25H1466.60M174.00 585.57H184.00M1476.60 585.57H1466.60M174.00 542.90H184.00M1476.60 542.90H1466.60" stroke="#000" stroke-width="1.15" fill="none"/>
<rect x="174.00" y="518.00" width="1302.60" height="366.30" fill="none" stroke="#000" stroke-width="2.1"/>
<path d="M181.90 1426.00V1416.00M181.90 1062.80V1072.80M287.50 1426.00V1416.00M287.50 1062.80V1072.80M393.10 1426.00V1416.00M393.10 1062.80V1072.80M498.70 1426.00V1416.00M498.70 1062.80V1072.80M604.30 1426.00V1416.00M604.30 1062.80V1072.80M709.90 1426.00V1416.00M709.90 1062.80V1072.80M181.90 1426.00H191.90M709.90 1426.00H699.90M181.90 1353.36H191.90M709.90 1353.36H699.90M181.90 1280.72H191.90M709.90 1280.72H699.90M181.90 1208.08H191.90M709.90 1208.08H699.90M181.90 1135.44H191.90M709.90 1135.44H699.90M181.90 1062.80H191.90M709.90 1062.80H699.90" stroke="#000" stroke-width="1.15" fill="none"/>
<rect x="181.90" y="1062.80" width="528.00" height="363.20" fill="none" stroke="#000" stroke-width="2.1"/>
<path d="M955.10 1426.00V1416.00M955.10 1062.70V1072.70M1060.74 1426.00V1416.00M1060.74 1062.70V1072.70M1166.38 1426.00V1416.00M1166.38 1062.70V1072.70M1272.02 1426.00V1416.00M1272.02 1062.70V1072.70M1377.66 1426.00V1416.00M1377.66 1062.70V1072.70M1483.30 1426.00V1416.00M1483.30 1062.70V1072.70M955.10 1426.00H965.10M1483.30 1426.00H1473.30M955.10 1353.34H965.10M1483.30 1353.34H1473.30M955.10 1280.68H965.10M1483.30 1280.68H1473.30M955.10 1208.02H965.10M1483.30 1208.02H1473.30M955.10 1135.36H965.10M1483.30 1135.36H1473.30M955.10 1062.70H965.10M1483.30 1062.70H1473.30" stroke="#000" stroke-width="1.15" fill="none"/>
<rect x="955.10" y="1062.70" width="528.20" height="363.30" fill="none" stroke="#000" stroke-width="2.1"/>
<g font-family="Liberation Sans" font-size="27.9" fill="#000">
<text transform="translate(174.10,382.90) scale(1.025,1)" text-anchor="end" class="tk">0.00</text>
<text transform="translate(174.10,337.44) scale(1.025,1)" text-anchor="end" class="tk">0.05</text>
<text transform="translate(174.10,291.98) scale(1.025,1)" text-anchor="end" class="tk">0.10</text>
<text transform="translate(174.10,246.51) scale(1.025,1)" text-anchor="end" class="tk">0.15</text>
<text transform="translate(174.10,201.05) scale(1.025,1)" text-anchor="end" class="tk">0.20</text>
<text transform="translate(174.10,155.59) scale(1.025,1)" text-anchor="end" class="tk">0.25</text>
<text transform="translate(174.10,110.12) scale(1.025,1)" text-anchor="end" class="tk">0.30</text>
<text transform="translate(174.10,64.66) scale(1.025,1)" text-anchor="end" class="tk">0.35</text>
<text transform="translate(174.10,19.20) scale(1.025,1)" text-anchor="end" class="tk">0.40</text>
<text transform="translate(181.50,403.90) scale(1.025,1)" text-anchor="middle" class="tk">0</text>
<text transform="translate(504.25,403.90) scale(1.025,1)" text-anchor="middle" class="tk">5</text>
<text transform="translate(827.00,403.90) scale(1.025,1)" text-anchor="middle" class="tk">10</text>
<text transform="translate(1149.75,403.90) scale(1.025,1)" text-anchor="middle" class="tk">15</text>
<text transform="translate(1472.50,403.90) scale(1.025,1)" text-anchor="middle" class="tk">20</text>
<text transform="translate(168.40,891.40) scale(1.025,1)" text-anchor="end" class="tk">0.00</text>
<text transform="translate(168.40,848.73) scale(1.025,1)" text-anchor="end" class="tk">0.05</text>
<text transform="translate(168.40,806.05) scale(1.025,1)" text-anchor="end" class="tk">0.10</text>
<text transform="translate(168.40,763.38) scale(1.025,1)" text-anchor="end" class="tk">0.15</text>
<text transform="translate(168.40,720.70) scale(1.025,1)" text-anchor="end" class="tk">0.20</text>
<text transform="translate(168.40,678.02) scale(1.025,1)" text-anchor="end" class="tk">0.25</text>
<text transform="translate(168.40,635.35) scale(1.025,1)" text-anchor="end" class="tk">0.30</text>
<text transform="translate(168.40,592.67) scale(1.025,1)" text-anchor="end" class="tk">0.35</text>
<text transform="translate(168.40,550.00) scale(1.025,1)" text-anchor="end" class="tk">0.40</text>
<text transform="translate(175.80,912.40) scale(1.025,1)" text-anchor="middle" class="tk">0</text>
<text transform="translate(385.90,912.40) scale(1.025,1)" text-anchor="middle" class="tk">1</text>
<text transform="translate(595.99,912.40) scale(1.025,1)" text-anchor="middle" class="tk">2</text>
<text transform="translate(806.09,912.40) scale(1.025,1)" text-anchor="middle" class="tk">3</text>
<text transform="translate(1016.19,912.40) scale(1.025,1)" text-anchor="middle" class="tk">4</text>
<text transform="translate(1226.28,912.40) scale(1.025,1)" text-anchor="middle" class="tk">5</text>
<text transform="translate(1436.38,912.40) scale(1.025,1)" text-anchor="middle" class="tk">6</text>
<text transform="translate(176.30,1433.10) scale(1.025,1)" text-anchor="end" class="tk">0.0</text>
<text transform="translate(176.30,1360.46) scale(1.025,1)" text-anchor="end" class="tk">0.1</text>
<text transform="translate(176.30,1287.82) scale(1.025,1)" text-anchor="end" class="tk">0.2</text>
<text transform="translate(176.30,1215.18) scale(1.025,1)" text-anchor="end" class="tk">0.3</text>
<text transform="translate(176.30,1142.54) scale(1.025,1)" text-anchor="end" class="tk">0.4</text>
<text transform="translate(176.30,1069.90) scale(1.025,1)" text-anchor="end" class="tk">0.5</text>
<text transform="translate(183.70,1454.10) scale(1.025,1)" text-anchor="middle" class="tk">0</text>
<text transform="translate(289.30,1454.10) scale(1.025,1)" text-anchor="middle" class="tk">2</text>
<text transform="translate(394.90,1454.10) scale(1.025,1)" text-anchor="middle" class="tk">4</text>
<text transform="translate(500.50,1454.10) scale(1.025,1)" text-anchor="middle" class="tk">6</text>
<text transform="translate(606.10,1454.10) scale(1.025,1)" text-anchor="middle" class="tk">8</text>
<text transform="translate(711.70,1454.10) scale(1.025,1)" text-anchor="middle" class="tk">10</text>
<text transform="translate(949.50,1433.10) scale(1.025,1)" text-anchor="end" class="tk">0.0</text>
<text transform="translate(949.50,1360.44) scale(1.025,1)" text-anchor="end" class="tk">0.5</text>
<text transform="translate(949.50,1287.78) scale(1.025,1)" text-anchor="end" class="tk">1.0</text>
<text transform="translate(949.50,1215.12) scale(1.025,1)" text-anchor="end" class="tk">1.5</text>
<text transform="translate(949.50,1142.46) scale(1.025,1)" text-anchor="end" class="tk">2.0</text>
<text transform="translate(949.50,1069.80) scale(1.025,1)" text-anchor="end" class="tk">2.5</text>
<text transform="translate(956.90,1454.10) scale(1.025,1)" text-anchor="middle" class="tk">0</text>
<text transform="translate(1062.54,1454.10) scale(1.025,1)" text-anchor="middle" class="tk">2</text>
<text transform="translate(1168.18,1454.10) scale(1.025,1)" text-anchor="middle" class="tk">4</text>
<text transform="translate(1273.82,1454.10) scale(1.025,1)" text-anchor="middle" class="tk">6</text>
<text transform="translate(1379.46,1454.10) scale(1.025,1)" text-anchor="middle" class="tk">8</text>
<text transform="translate(1485.10,1454.10) scale(1.025,1)" text-anchor="middle" class="tk">10</text>
</g>
<path d="M0.9 797H75.2M0.9 879.1H75.2" stroke="#000" stroke-width="3"/>
<rect x="729.1" y="954.5" width="25.7" height="3.4" fill="#000"/>
<g transform="translate(771.20,422.60) scale(1.0000,1.0000)" fill="none" stroke="#000"><path d="M16.4 2.2L5.6 40.4" stroke-width="4.4" stroke-linecap="round"/><path d="M5.9 39.0Q4.0 48.2 10.8 47.4Q17.6 46.3 22.9 34.6" stroke-width="2.5" stroke-linecap="round"/><path d="M0.3 16.2H23.3" stroke-width="2.1"/></g>
<g transform="translate(1096.70,206.00) scale(1.0000,1.0000)"><path d="M4.4 1.55H45.9" stroke="#000" stroke-width="3.0" fill="none"/><path d="M5.0 1.2C3.4 6 1.9 11 0.9 15.2" stroke="#000" stroke-width="2.0" fill="none" stroke-linecap="round"/><path d="M46.0 1.0C45.6 6 44.8 11 44.0 15.2" stroke="#000" stroke-width="2.0" fill="none" stroke-linecap="round"/><path d="M4.0 2.5L12 2.5Q6.5 3.5 3.6 8.5Z M46.0 2.5L37.5 2.5Q43.3 3.2 45.1 8.0Z" fill="#000"/><path d="M25.0 2.6L15.6 45.2" stroke="#000" stroke-width="5.6" fill="none"/><path d="M3.2 46.2H28.0" stroke="#000" stroke-width="2.4" fill="none" stroke-linecap="round"/><path d="M10.5 45.6Q15.4 45 16.6 41.5L20.6 41.5Q20.6 45 24.8 45.6Z" fill="#000"/></g>
<g transform="translate(834.60,1421.20) rotate(-90) scale(1.0043,1.0187)"><path d="M4.4 1.55H45.9" stroke="#000" stroke-width="3.0" fill="none"/><path d="M5.0 1.2C3.4 6 1.9 11 0.9 15.2" stroke="#000" stroke-width="2.0" fill="none" stroke-linecap="round"/><path d="M46.0 1.0C45.6 6 44.8 11 44.0 15.2" stroke="#000" stroke-width="2.0" fill="none" stroke-linecap="round"/><path d="M4.0 2.5L12 2.5Q6.5 3.5 3.6 8.5Z M46.0 2.5L37.5 2.5Q43.3 3.2 45.1 8.0Z" fill="#000"/><path d="M25.0 2.6L15.6 45.2" stroke="#000" stroke-width="5.6" fill="none"/><path d="M3.2 46.2H28.0" stroke="#000" stroke-width="2.4" fill="none" stroke-linecap="round"/><path d="M10.5 45.6Q15.4 45 16.6 41.5L20.6 41.5Q20.6 45 24.8 45.6Z" fill="#000"/></g>
<g transform="translate(410.80,1491.10)" fill="none" stroke="#000" stroke-linecap="round"><path d="M37.4 4.0L29.9 18.4" stroke-width="2.2"/><path d="M29.9 18.4C27 23.5 20 30.5 11.6 30.2" stroke-width="3.2"/><path d="M11.6 30.2C5 30 1.8 25.5 2.3 19.5C3 9 10 1.8 16.5 1.8" stroke-width="4.6"/><path d="M16.5 1.8C22 1.8 25.2 5 26.6 11.9C28 19 28.6 27 30.4 30C32 32.5 35 30.5 36.8 26.6" stroke-width="3.4"/></g>
<g transform="translate(1224.80,1491.10)" fill="none" stroke="#000" stroke-linecap="round"><path d="M37.4 4.0L29.9 18.4" stroke-width="2.2"/><path d="M29.9 18.4C27 23.5 20 30.5 11.6 30.2" stroke-width="3.2"/><path d="M11.6 30.2C5 30 1.8 25.5 2.3 19.5C3 9 10 1.8 16.5 1.8" stroke-width="4.6"/><path d="M16.5 1.8C22 1.8 25.2 5 26.6 11.9C28 19 28.6 27 30.4 30C32 32.5 35 30.5 36.8 26.6" stroke-width="3.4"/></g>
<g transform="translate(857.10,435.40) scale(1.0000,1.0000)"><path d="M21.2 5.6C20.6 1.2 11.2 0.2 7.6 4.6C4.6 9.0 9.4 11.6 13.6 13.2C18.8 15.2 22.8 17.8 21.4 22.8C19.6 28.6 7.4 29.4 3.4 24.6" fill="none" stroke="#000" stroke-width="3.1" stroke-linecap="round"/><path d="M7.0 8.6C8.6 11.2 11.4 12.4 13.6 13.2C16.2 14.2 18.6 15.6 20.0 17.6" fill="none" stroke="#000" stroke-width="4.3" stroke-linecap="round"/><circle cx="20.9" cy="6.6" r="2.7" fill="#000"/><circle cx="3.9" cy="22.4" r="2.9" fill="#000"/></g>
<g transform="translate(856.30,943.40) scale(1.0250,1.0444)"><path d="M21.2 5.6C20.6 1.2 11.2 0.2 7.6 4.6C4.6 9.0 9.4 11.6 13.6 13.2C18.8 15.2 22.8 17.8 21.4 22.8C19.6 28.6 7.4 29.4 3.4 24.6" fill="none" stroke="#000" stroke-width="3.1" stroke-linecap="round"/><path d="M7.0 8.6C8.6 11.2 11.4 12.4 13.6 13.2C16.2 14.2 18.6 15.6 20.0 17.6" fill="none" stroke="#000" stroke-width="4.3" stroke-linecap="round"/><circle cx="20.9" cy="6.6" r="2.7" fill="#000"/><circle cx="3.9" cy="22.4" r="2.9" fill="#000"/></g>
<g transform="translate(845.70,1184.80) rotate(-90) scale(0.7917,0.7850)"><path d="M21.2 5.6C20.6 1.2 11.2 0.2 7.6 4.6C4.6 9.0 9.4 11.6 13.6 13.2C18.8 15.2 22.8 17.8 21.4 22.8C19.6 28.6 7.4 29.4 3.4 24.6" fill="none" stroke="#000" stroke-width="3.1" stroke-linecap="round"/><path d="M7.0 8.6C8.6 11.2 11.4 12.4 13.6 13.2C16.2 14.2 18.6 15.6 20.0 17.6" fill="none" stroke="#000" stroke-width="4.3" stroke-linecap="round"/><circle cx="20.9" cy="6.6" r="2.7" fill="#000"/><circle cx="3.9" cy="22.4" r="2.9" fill="#000"/></g>
<g transform="translate(686.90,931.10) scale(1.0128,1.0062)" fill="none" stroke="#000"><path d="M16.4 2.2L5.6 40.4" stroke-width="4.4" stroke-linecap="round"/><path d="M5.9 39.0Q4.0 48.2 10.8 47.4Q17.6 46.3 22.9 34.6" stroke-width="2.5" stroke-linecap="round"/><path d="M0.3 16.2H23.3" stroke-width="2.1"/></g>
<g transform="translate(773.50,931.10) scale(1.0128,1.0062)" fill="none" stroke="#000"><path d="M16.4 2.2L5.6 40.4" stroke-width="4.4" stroke-linecap="round"/><path d="M5.9 39.0Q4.0 48.2 10.8 47.4Q17.6 46.3 22.9 34.6" stroke-width="2.5" stroke-linecap="round"/><path d="M0.3 16.2H23.3" stroke-width="2.1"/></g>
<path d="M18.00 -0.50L16.04 1.16L14.30 2.83L12.74 4.49L11.34 6.15L10.07 7.81L8.93 9.47L7.90 11.14L6.97 12.80L6.13 14.46L5.38 16.12L4.72 17.79L4.13 19.45L3.62 21.11L3.19 22.77L2.82 24.44L2.52 26.10L2.29 27.76L2.13 29.43L2.03 31.09L2.00 32.75L2.03 34.41L2.13 36.08L2.29 37.74L2.52 39.40L2.82 41.06L3.19 42.73L3.62 44.39L4.13 46.05L4.72 47.71L5.38 49.38L6.13 51.04L6.97 52.70L7.90 54.36L8.93 56.02L10.07 57.69L11.34 59.35L12.74 61.01L14.30 62.67L16.04 64.34L18.00 66.00L18.00 66.00L17.22 64.34L15.75 62.67L14.46 61.01L13.32 59.35L12.31 57.69L11.41 56.02L10.62 54.36L9.92 52.70L9.30 51.04L8.75 49.38L8.27 47.71L7.85 46.05L7.50 44.39L7.19 42.73L6.94 41.06L6.74 39.40L6.59 37.74L6.48 36.08L6.41 34.41L6.39 32.75L6.41 31.09L6.48 29.43L6.59 27.76L6.74 26.10L6.94 24.44L7.19 22.77L7.50 21.11L7.85 19.45L8.27 17.79L8.75 16.12L9.30 14.46L9.92 12.80L10.62 11.14L11.41 9.47L12.31 7.81L13.32 6.15L14.46 4.49L15.75 2.83L17.22 1.16L18.00 -0.50Z" fill="#000"/>
<path d="M57.70 -0.50L59.59 1.16L61.27 2.83L62.78 4.49L64.15 6.15L65.38 7.81L66.50 9.47L67.51 11.14L68.42 12.80L69.24 14.46L69.98 16.12L70.63 17.79L71.20 19.45L71.70 21.11L72.13 22.77L72.49 24.44L72.79 26.10L73.01 27.76L73.17 29.43L73.27 31.09L73.30 32.75L73.27 34.41L73.17 36.08L73.01 37.74L72.79 39.40L72.49 41.06L72.13 42.73L71.70 44.39L71.20 46.05L70.63 47.71L69.98 49.38L69.24 51.04L68.42 52.70L67.51 54.36L66.50 56.02L65.38 57.69L64.15 59.35L62.78 61.01L61.27 62.67L59.59 64.34L57.70 66.00L57.70 66.00L58.41 64.34L59.82 62.67L61.07 61.01L62.17 59.35L63.15 57.69L64.02 56.02L64.79 54.36L65.47 52.70L66.08 51.04L66.61 49.38L67.08 47.71L67.48 46.05L67.83 44.39L68.12 42.73L68.37 41.06L68.57 39.40L68.72 37.74L68.83 36.08L68.89 34.41L68.91 32.75L68.89 31.09L68.83 29.43L68.72 27.76L68.57 26.10L68.37 24.44L68.12 22.77L67.83 21.11L67.48 19.45L67.08 17.79L66.61 16.12L66.08 14.46L65.47 12.80L64.79 11.14L64.02 9.47L63.15 7.81L62.17 6.15L61.07 4.49L59.82 2.83L58.41 1.16L57.70 -0.50Z" fill="#000"/>
<path d="M17.10 531.90L15.25 533.43L13.60 534.95L12.14 536.48L10.82 538.01L9.63 539.54L8.56 541.06L7.60 542.59L6.73 544.12L5.95 545.65L5.25 547.17L4.63 548.70L4.08 550.23L3.61 551.76L3.20 553.28L2.86 554.81L2.59 556.34L2.37 557.87L2.22 559.39L2.13 560.92L2.10 562.45L2.13 563.98L2.22 565.50L2.37 567.03L2.59 568.56L2.86 570.09L3.20 571.62L3.61 573.14L4.08 574.67L4.63 576.20L5.25 577.73L5.95 579.25L6.73 580.78L7.60 582.31L8.56 583.84L9.63 585.36L10.82 586.89L12.14 588.42L13.60 589.94L15.25 591.47L17.10 593.00L17.10 593.00L16.39 591.47L14.99 589.94L13.77 588.42L12.69 586.89L11.73 585.36L10.89 583.84L10.13 582.31L9.47 580.78L8.88 579.25L8.37 577.73L7.91 576.20L7.52 574.67L7.18 573.14L6.89 571.62L6.66 570.09L6.47 568.56L6.32 567.03L6.22 565.50L6.15 563.98L6.13 562.45L6.15 560.92L6.22 559.39L6.32 557.87L6.47 556.34L6.66 554.81L6.89 553.28L7.18 551.76L7.52 550.23L7.91 548.70L8.37 547.17L8.88 545.65L9.47 544.12L10.13 542.59L10.89 541.06L11.73 539.54L12.69 538.01L13.77 536.48L14.99 534.95L16.39 533.43L17.10 531.90Z" fill="#000"/>
<path d="M57.10 531.90L58.79 533.43L60.31 534.95L61.67 536.48L62.90 538.01L64.02 539.54L65.03 541.06L65.94 542.59L66.77 544.12L67.51 545.65L68.18 547.17L68.77 548.70L69.29 550.23L69.75 551.76L70.14 553.28L70.47 554.81L70.73 556.34L70.94 557.87L71.08 559.39L71.17 560.92L71.20 562.45L71.17 563.98L71.08 565.50L70.94 567.03L70.73 568.56L70.47 570.09L70.14 571.62L69.75 573.14L69.29 574.67L68.77 576.20L68.18 577.73L67.51 579.25L66.77 580.78L65.94 582.31L65.03 583.84L64.02 585.36L62.90 586.89L61.67 588.42L60.31 589.94L58.79 591.47L57.10 593.00L57.10 593.00L57.65 591.47L58.92 589.94L60.04 588.42L61.04 586.89L61.92 585.36L62.71 583.84L63.41 582.31L64.03 580.78L64.58 579.25L65.07 577.73L65.49 576.20L65.86 574.67L66.18 573.14L66.45 571.62L66.67 570.09L66.85 568.56L66.99 567.03L67.09 565.50L67.15 563.98L67.17 562.45L67.15 560.92L67.09 559.39L66.99 557.87L66.85 556.34L66.67 554.81L66.45 553.28L66.18 551.76L65.86 550.23L65.49 548.70L65.07 547.17L64.58 545.65L64.03 544.12L63.41 542.59L62.71 541.06L61.92 539.54L61.04 538.01L60.04 536.48L58.92 534.95L57.65 533.43L57.10 531.90Z" fill="#000"/>
<path d="M21.30 1048.80L19.55 1050.31L17.99 1051.83L16.59 1053.34L15.32 1054.85L14.18 1056.36L13.15 1057.88L12.22 1059.39L11.38 1060.90L10.63 1062.41L9.95 1063.92L9.35 1065.44L8.83 1066.95L8.37 1068.46L7.97 1069.97L7.64 1071.49L7.37 1073.00L7.17 1074.51L7.02 1076.02L6.93 1077.54L6.90 1079.05L6.93 1080.56L7.02 1082.08L7.17 1083.59L7.37 1085.10L7.64 1086.61L7.97 1088.12L8.37 1089.64L8.83 1091.15L9.35 1092.66L9.95 1094.17L10.63 1095.69L11.38 1097.20L12.22 1098.71L13.15 1100.22L14.18 1101.74L15.32 1103.25L16.59 1104.76L17.99 1106.27L19.55 1107.79L21.30 1109.30L21.30 1109.30L20.69 1107.79L19.37 1106.27L18.21 1104.76L17.18 1103.25L16.27 1101.74L15.46 1100.22L14.74 1098.71L14.10 1097.20L13.54 1095.69L13.04 1094.17L12.61 1092.66L12.23 1091.15L11.90 1089.64L11.63 1088.12L11.40 1086.61L11.21 1085.10L11.07 1083.59L10.97 1082.08L10.91 1080.56L10.89 1079.05L10.91 1077.54L10.97 1076.02L11.07 1074.51L11.21 1073.00L11.40 1071.49L11.63 1069.97L11.90 1068.46L12.23 1066.95L12.61 1065.44L13.04 1063.92L13.54 1062.41L14.10 1060.90L14.74 1059.39L15.46 1057.88L16.27 1056.36L17.18 1054.85L18.21 1053.34L19.37 1051.83L20.69 1050.31L21.30 1048.80Z" fill="#000"/>
<path d="M54.90 1048.80L56.65 1050.31L58.21 1051.83L59.61 1053.34L60.88 1054.85L62.02 1056.36L63.05 1057.88L63.98 1059.39L64.82 1060.90L65.57 1062.41L66.25 1063.92L66.85 1065.44L67.37 1066.95L67.83 1068.46L68.23 1069.97L68.56 1071.49L68.83 1073.00L69.03 1074.51L69.18 1076.02L69.27 1077.54L69.30 1079.05L69.27 1080.56L69.18 1082.08L69.03 1083.59L68.83 1085.10L68.56 1086.61L68.23 1088.12L67.83 1089.64L67.37 1091.15L66.85 1092.66L66.25 1094.17L65.57 1095.69L64.82 1097.20L63.98 1098.71L63.05 1100.22L62.02 1101.74L60.88 1103.25L59.61 1104.76L58.21 1106.27L56.65 1107.79L54.90 1109.30L54.90 1109.30L55.51 1107.79L56.83 1106.27L57.99 1104.76L59.02 1103.25L59.93 1101.74L60.74 1100.22L61.46 1098.71L62.10 1097.20L62.66 1095.69L63.16 1094.17L63.59 1092.66L63.97 1091.15L64.30 1089.64L64.57 1088.12L64.80 1086.61L64.99 1085.10L65.13 1083.59L65.23 1082.08L65.29 1080.56L65.31 1079.05L65.29 1077.54L65.23 1076.02L65.13 1074.51L64.99 1073.00L64.80 1071.49L64.57 1069.97L64.30 1068.46L63.97 1066.95L63.59 1065.44L63.16 1063.92L62.66 1062.41L62.10 1060.90L61.46 1059.39L60.74 1057.88L59.93 1056.36L59.02 1054.85L57.99 1053.34L56.83 1051.83L55.51 1050.31L54.90 1048.80Z" fill="#000"/>
<path d="M811.60 1051.50L810.01 1052.88L808.59 1054.26L807.32 1055.64L806.17 1057.02L805.13 1058.40L804.19 1059.78L803.35 1061.16L802.58 1062.54L801.90 1063.92L801.28 1065.30L800.74 1066.68L800.25 1068.06L799.83 1069.44L799.48 1070.82L799.17 1072.20L798.93 1073.58L798.74 1074.96L798.61 1076.34L798.53 1077.72L798.50 1079.10L798.53 1080.48L798.61 1081.86L798.74 1083.24L798.93 1084.62L799.17 1086.00L799.48 1087.38L799.83 1088.76L800.25 1090.14L800.74 1091.52L801.28 1092.90L801.90 1094.28L802.58 1095.66L803.35 1097.04L804.19 1098.42L805.13 1099.80L806.17 1101.18L807.32 1102.56L808.59 1103.94L810.01 1105.32L811.60 1106.70L811.60 1106.70L811.12 1105.32L809.92 1103.94L808.86 1102.56L807.92 1101.18L807.08 1099.80L806.34 1098.42L805.68 1097.04L805.10 1095.66L804.58 1094.28L804.12 1092.90L803.72 1091.52L803.37 1090.14L803.07 1088.76L802.82 1087.38L802.61 1086.00L802.44 1084.62L802.31 1083.24L802.22 1081.86L802.16 1080.48L802.14 1079.10L802.16 1077.72L802.22 1076.34L802.31 1074.96L802.44 1073.58L802.61 1072.20L802.82 1070.82L803.07 1069.44L803.37 1068.06L803.72 1066.68L804.12 1065.30L804.58 1063.92L805.10 1062.54L805.68 1061.16L806.34 1059.78L807.08 1058.40L807.92 1057.02L808.86 1055.64L809.92 1054.26L811.12 1052.88L811.60 1051.50Z" fill="#000"/>
<path d="M848.10 1051.50L849.64 1052.88L851.02 1054.26L852.26 1055.64L853.37 1057.02L854.39 1058.40L855.31 1059.78L856.14 1061.16L856.88 1062.54L857.56 1063.92L858.16 1065.30L858.70 1066.68L859.17 1068.06L859.59 1069.44L859.94 1070.82L860.24 1072.20L860.48 1073.58L860.66 1074.96L860.79 1076.34L860.87 1077.72L860.90 1079.10L860.87 1080.48L860.79 1081.86L860.66 1083.24L860.48 1084.62L860.24 1086.00L859.94 1087.38L859.59 1088.76L859.17 1090.14L858.70 1091.52L858.16 1092.90L857.56 1094.28L856.88 1095.66L856.14 1097.04L855.31 1098.42L854.39 1099.80L853.37 1101.18L852.26 1102.56L851.02 1103.94L849.64 1105.32L848.10 1106.70L848.10 1106.70L848.52 1105.32L849.69 1103.94L850.72 1102.56L851.63 1101.18L852.44 1099.80L853.16 1098.42L853.80 1097.04L854.37 1095.66L854.88 1094.28L855.32 1092.90L855.71 1091.52L856.05 1090.14L856.35 1088.76L856.59 1087.38L856.80 1086.00L856.97 1084.62L857.09 1083.24L857.19 1081.86L857.24 1080.48L857.26 1079.10L857.24 1077.72L857.19 1076.34L857.09 1074.96L856.97 1073.58L856.80 1072.20L856.59 1070.82L856.35 1069.44L856.05 1068.06L855.71 1066.68L855.32 1065.30L854.88 1063.92L854.37 1062.54L853.80 1061.16L853.16 1059.78L852.44 1058.40L851.63 1057.02L850.72 1055.64L849.69 1054.26L848.52 1052.88L848.10 1051.50Z" fill="#000"/>
<path d="M12.00 111.20L13.28 109.75L14.56 108.46L15.85 107.29L17.13 106.24L18.41 105.29L19.70 104.43L20.98 103.66L22.26 102.96L23.54 102.32L24.82 101.76L26.11 101.26L27.39 100.81L28.67 100.43L29.95 100.10L31.24 99.82L32.52 99.60L33.80 99.42L35.09 99.30L36.37 99.22L37.65 99.20L38.93 99.22L40.22 99.30L41.50 99.42L42.78 99.60L44.06 99.82L45.34 100.10L46.63 100.43L47.91 100.81L49.19 101.26L50.47 101.76L51.76 102.32L53.04 102.96L54.32 103.66L55.60 104.43L56.89 105.29L58.17 106.24L59.45 107.29L60.73 108.46L62.02 109.75L63.30 111.20L63.30 111.20L62.02 110.85L60.73 109.75L59.45 108.77L58.17 107.91L56.89 107.14L55.60 106.46L54.32 105.86L53.04 105.32L51.76 104.84L50.47 104.42L49.19 104.05L47.91 103.73L46.63 103.45L45.34 103.21L44.06 103.02L42.78 102.86L41.50 102.74L40.22 102.65L38.93 102.60L37.65 102.59L36.37 102.60L35.09 102.65L33.80 102.74L32.52 102.86L31.24 103.02L29.95 103.21L28.67 103.45L27.39 103.73L26.11 104.05L24.82 104.42L23.54 104.84L22.26 105.32L20.98 105.86L19.70 106.46L18.41 107.14L17.13 107.91L15.85 108.77L14.56 109.75L13.28 110.85L12.00 111.20Z" fill="#000"/>
<path d="M12.00 204.30L13.28 205.82L14.56 207.17L15.85 208.38L17.13 209.47L18.41 210.45L19.70 211.34L20.98 212.14L22.26 212.86L23.54 213.50L24.82 214.08L26.11 214.60L27.39 215.05L28.67 215.44L29.95 215.78L31.24 216.07L32.52 216.30L33.80 216.47L35.09 216.60L36.37 216.67L37.65 216.70L38.93 216.67L40.22 216.60L41.50 216.47L42.78 216.30L44.06 216.07L45.34 215.78L46.63 215.44L47.91 215.05L49.19 214.60L50.47 214.08L51.76 213.50L53.04 212.86L54.32 212.14L55.60 211.34L56.89 210.45L58.17 209.47L59.45 208.38L60.73 207.17L62.02 205.82L63.30 204.30L63.30 204.30L62.02 204.73L60.73 205.88L59.45 206.90L58.17 207.80L56.89 208.60L55.60 209.31L54.32 209.94L53.04 210.49L51.76 210.99L50.47 211.42L49.19 211.81L47.91 212.14L46.63 212.43L45.34 212.67L44.06 212.87L42.78 213.03L41.50 213.16L40.22 213.24L38.93 213.30L37.65 213.31L36.37 213.30L35.09 213.24L33.80 213.16L32.52 213.03L31.24 212.87L29.95 212.67L28.67 212.43L27.39 212.14L26.11 211.81L24.82 211.42L23.54 210.99L22.26 210.49L20.98 209.94L19.70 209.31L18.41 208.60L17.13 207.80L15.85 206.90L14.56 205.88L13.28 204.73L12.00 204.30Z" fill="#000"/>
<path d="M11.80 652.10L13.08 650.65L14.37 649.36L15.65 648.19L16.93 647.14L18.21 646.19L19.50 645.33L20.78 644.56L22.06 643.86L23.34 643.22L24.62 642.66L25.91 642.16L27.19 641.71L28.47 641.33L29.75 641.00L31.04 640.72L32.32 640.50L33.60 640.32L34.89 640.20L36.17 640.12L37.45 640.10L38.73 640.12L40.02 640.20L41.30 640.32L42.58 640.50L43.86 640.72L45.14 641.00L46.43 641.33L47.71 641.71L48.99 642.16L50.27 642.66L51.56 643.22L52.84 643.86L54.12 644.56L55.41 645.33L56.69 646.19L57.97 647.14L59.25 648.19L60.53 649.36L61.82 650.65L63.10 652.10L63.10 652.10L61.82 651.75L60.53 650.65L59.25 649.67L57.97 648.81L56.69 648.04L55.41 647.36L54.12 646.76L52.84 646.22L51.56 645.74L50.27 645.32L48.99 644.95L47.71 644.63L46.43 644.35L45.14 644.11L43.86 643.92L42.58 643.76L41.30 643.64L40.02 643.55L38.73 643.50L37.45 643.49L36.17 643.50L34.89 643.55L33.60 643.64L32.32 643.76L31.04 643.92L29.75 644.11L28.47 644.35L27.19 644.63L25.91 644.95L24.62 645.32L23.34 645.74L22.06 646.22L20.78 646.76L19.50 647.36L18.21 648.04L16.93 648.81L15.65 649.67L14.37 650.65L13.08 651.75L11.80 652.10Z" fill="#000"/>
<path d="M11.80 745.20L13.08 746.72L14.37 748.07L15.65 749.28L16.93 750.37L18.21 751.35L19.50 752.24L20.78 753.04L22.06 753.76L23.34 754.40L24.62 754.98L25.91 755.50L27.19 755.95L28.47 756.34L29.75 756.68L31.04 756.97L32.32 757.20L33.60 757.37L34.89 757.50L36.17 757.57L37.45 757.60L38.73 757.57L40.02 757.50L41.30 757.37L42.58 757.20L43.86 756.97L45.14 756.68L46.43 756.34L47.71 755.95L48.99 755.50L50.27 754.98L51.56 754.40L52.84 753.76L54.12 753.04L55.41 752.24L56.69 751.35L57.97 750.37L59.25 749.28L60.53 748.07L61.82 746.72L63.10 745.20L63.10 745.20L61.82 745.63L60.53 746.78L59.25 747.80L57.97 748.70L56.69 749.50L55.41 750.21L54.12 750.84L52.84 751.39L51.56 751.89L50.27 752.32L48.99 752.71L47.71 753.04L46.43 753.33L45.14 753.57L43.86 753.77L42.58 753.93L41.30 754.06L40.02 754.14L38.73 754.20L37.45 754.21L36.17 754.20L34.89 754.14L33.60 754.06L32.32 753.93L31.04 753.77L29.75 753.57L28.47 753.33L27.19 753.04L25.91 752.71L24.62 752.32L23.34 751.89L22.06 751.39L20.78 750.84L19.50 750.21L18.21 749.50L16.93 748.70L15.65 747.80L14.37 746.78L13.08 745.63L11.80 745.20Z" fill="#000"/>
<path d="M47.30 1159.30L48.58 1157.85L49.86 1156.56L51.15 1155.39L52.43 1154.34L53.71 1153.39L54.99 1152.53L56.28 1151.76L57.56 1151.06L58.84 1150.42L60.12 1149.86L61.41 1149.36L62.69 1148.91L63.97 1148.53L65.25 1148.20L66.54 1147.92L67.82 1147.70L69.10 1147.52L70.38 1147.40L71.67 1147.32L72.95 1147.30L74.23 1147.32L75.52 1147.40L76.80 1147.52L78.08 1147.70L79.36 1147.92L80.64 1148.20L81.93 1148.53L83.21 1148.91L84.49 1149.36L85.77 1149.86L87.06 1150.42L88.34 1151.06L89.62 1151.76L90.91 1152.53L92.19 1153.39L93.47 1154.34L94.75 1155.39L96.03 1156.56L97.32 1157.85L98.60 1159.30L98.60 1159.30L97.32 1158.95L96.03 1157.85L94.75 1156.87L93.47 1156.01L92.19 1155.24L90.91 1154.56L89.62 1153.96L88.34 1153.42L87.06 1152.94L85.77 1152.52L84.49 1152.15L83.21 1151.83L81.93 1151.55L80.64 1151.31L79.36 1151.12L78.08 1150.96L76.80 1150.84L75.52 1150.75L74.23 1150.70L72.95 1150.69L71.67 1150.70L70.38 1150.75L69.10 1150.84L67.82 1150.96L66.54 1151.12L65.25 1151.31L63.97 1151.55L62.69 1151.83L61.41 1152.15L60.12 1152.52L58.84 1152.94L57.56 1153.42L56.28 1153.96L54.99 1154.56L53.71 1155.24L52.43 1156.01L51.15 1156.87L49.86 1157.85L48.58 1158.95L47.30 1159.30Z" fill="#000"/>
<path d="M47.30 1252.40L48.58 1253.92L49.86 1255.27L51.15 1256.48L52.43 1257.57L53.71 1258.55L54.99 1259.44L56.28 1260.24L57.56 1260.96L58.84 1261.60L60.12 1262.18L61.41 1262.70L62.69 1263.15L63.97 1263.54L65.25 1263.88L66.54 1264.17L67.82 1264.40L69.10 1264.57L70.38 1264.70L71.67 1264.77L72.95 1264.80L74.23 1264.77L75.52 1264.70L76.80 1264.57L78.08 1264.40L79.36 1264.17L80.64 1263.88L81.93 1263.54L83.21 1263.15L84.49 1262.70L85.77 1262.18L87.06 1261.60L88.34 1260.96L89.62 1260.24L90.91 1259.44L92.19 1258.55L93.47 1257.57L94.75 1256.48L96.03 1255.27L97.32 1253.92L98.60 1252.40L98.60 1252.40L97.32 1252.83L96.03 1253.98L94.75 1255.00L93.47 1255.90L92.19 1256.70L90.91 1257.41L89.62 1258.04L88.34 1258.59L87.06 1259.09L85.77 1259.52L84.49 1259.91L83.21 1260.24L81.93 1260.53L80.64 1260.77L79.36 1260.97L78.08 1261.13L76.80 1261.26L75.52 1261.34L74.23 1261.40L72.95 1261.41L71.67 1261.40L70.38 1261.34L69.10 1261.26L67.82 1261.13L66.54 1260.97L65.25 1260.77L63.97 1260.53L62.69 1260.24L61.41 1259.91L60.12 1259.52L58.84 1259.09L57.56 1258.59L56.28 1258.04L54.99 1257.41L53.71 1256.70L52.43 1255.90L51.15 1255.00L49.86 1253.98L48.58 1252.83L47.30 1252.40Z" fill="#000"/>
<path d="M829.80 1160.70L831.08 1159.18L832.37 1157.83L833.65 1156.62L834.93 1155.53L836.21 1154.55L837.50 1153.66L838.78 1152.86L840.06 1152.14L841.34 1151.50L842.62 1150.92L843.91 1150.40L845.19 1149.95L846.47 1149.56L847.75 1149.22L849.04 1148.93L850.32 1148.70L851.60 1148.53L852.88 1148.40L854.17 1148.33L855.45 1148.30L856.73 1148.33L858.01 1148.40L859.30 1148.53L860.58 1148.70L861.86 1148.93L863.14 1149.22L864.43 1149.56L865.71 1149.95L866.99 1150.40L868.27 1150.92L869.56 1151.50L870.84 1152.14L872.12 1152.86L873.40 1153.66L874.69 1154.55L875.97 1155.53L877.25 1156.62L878.53 1157.83L879.82 1159.18L881.10 1160.70L881.10 1160.70L879.82 1160.27L878.53 1159.12L877.25 1158.10L875.97 1157.20L874.69 1156.40L873.40 1155.69L872.12 1155.06L870.84 1154.51L869.56 1154.01L868.27 1153.58L866.99 1153.19L865.71 1152.86L864.43 1152.57L863.14 1152.33L861.86 1152.13L860.58 1151.97L859.30 1151.84L858.01 1151.76L856.73 1151.70L855.45 1151.69L854.17 1151.70L852.88 1151.76L851.60 1151.84L850.32 1151.97L849.04 1152.13L847.75 1152.33L846.47 1152.57L845.19 1152.86L843.91 1153.19L842.62 1153.58L841.34 1154.01L840.06 1154.51L838.78 1155.06L837.50 1155.69L836.21 1156.40L834.93 1157.20L833.65 1158.10L832.37 1159.12L831.08 1160.27L829.80 1160.70Z" fill="#000"/>
<path d="M829.80 1189.90L831.08 1191.30L832.37 1192.55L833.65 1193.68L834.93 1194.70L836.21 1195.63L837.50 1196.47L838.78 1197.23L840.06 1197.91L841.34 1198.53L842.62 1199.09L843.91 1199.58L845.19 1200.01L846.47 1200.39L847.75 1200.72L849.04 1200.99L850.32 1201.21L851.60 1201.38L852.88 1201.50L854.17 1201.58L855.45 1201.60L856.73 1201.58L858.01 1201.50L859.30 1201.38L860.58 1201.21L861.86 1200.99L863.14 1200.72L864.43 1200.39L865.71 1200.01L866.99 1199.58L868.27 1199.09L869.56 1198.53L870.84 1197.91L872.12 1197.23L873.40 1196.47L874.69 1195.63L875.97 1194.70L877.25 1193.68L878.53 1192.55L879.82 1191.30L881.10 1189.90L881.10 1189.90L879.82 1190.20L878.53 1191.26L877.25 1192.20L875.97 1193.03L874.69 1193.78L873.40 1194.44L872.12 1195.03L870.84 1195.55L869.56 1196.02L868.27 1196.43L866.99 1196.79L865.71 1197.10L864.43 1197.37L863.14 1197.60L861.86 1197.79L860.58 1197.95L859.30 1198.06L858.01 1198.15L856.73 1198.20L855.45 1198.21L854.17 1198.20L852.88 1198.15L851.60 1198.06L850.32 1197.95L849.04 1197.79L847.75 1197.60L846.47 1197.37L845.19 1197.10L843.91 1196.79L842.62 1196.43L841.34 1196.02L840.06 1195.55L838.78 1195.03L837.50 1194.44L836.21 1193.78L834.93 1193.03L833.65 1192.20L832.37 1191.26L831.08 1190.20L829.80 1189.90Z" fill="#000"/>
<path d="M850.10 415.10L848.24 416.74L846.57 418.38L845.08 420.02L843.73 421.66L842.51 423.30L841.41 424.94L840.41 426.58L839.51 428.22L838.71 429.86L837.98 431.50L837.34 433.14L836.77 434.78L836.27 436.42L835.85 438.06L835.50 439.70L835.21 441.34L834.98 442.98L834.83 444.62L834.73 446.26L834.70 447.90L834.73 449.54L834.83 451.18L834.98 452.82L835.21 454.46L835.50 456.10L835.85 457.74L836.27 459.38L836.77 461.02L837.34 462.66L837.98 464.30L838.71 465.94L839.51 467.58L840.41 469.22L841.41 470.86L842.51 472.50L843.73 474.14L845.08 475.78L846.57 477.42L848.24 479.06L850.10 480.70L850.10 480.70L849.41 479.06L848.01 477.42L846.78 475.78L845.69 474.14L844.73 472.50L843.87 470.86L843.11 469.22L842.43 467.58L841.83 465.94L841.31 464.30L840.84 462.66L840.44 461.02L840.10 459.38L839.81 457.74L839.56 456.10L839.37 454.46L839.22 452.82L839.11 451.18L839.05 449.54L839.03 447.90L839.05 446.26L839.11 444.62L839.22 442.98L839.37 441.34L839.56 439.70L839.81 438.06L840.10 436.42L840.44 434.78L840.84 433.14L841.31 431.50L841.83 429.86L842.43 428.22L843.11 426.58L843.87 424.94L844.73 423.30L845.69 421.66L846.78 420.02L848.01 418.38L849.41 416.74L850.10 415.10Z" fill="#000"/>
<path d="M888.00 415.10L889.88 416.74L891.56 418.38L893.06 420.02L894.42 421.66L895.65 423.30L896.76 424.94L897.76 426.58L898.66 428.22L899.48 429.86L900.20 431.50L900.85 433.14L901.42 434.78L901.92 436.42L902.34 438.06L902.70 439.70L902.99 441.34L903.21 442.98L903.37 444.62L903.47 446.26L903.50 447.90L903.47 449.54L903.37 451.18L903.21 452.82L902.99 454.46L902.70 456.10L902.34 457.74L901.92 459.38L901.42 461.02L900.85 462.66L900.20 464.30L899.48 465.94L898.66 467.58L897.76 469.22L896.76 470.86L895.65 472.50L894.42 474.14L893.06 475.78L891.56 477.42L889.88 479.06L888.00 480.70L888.00 480.70L888.71 479.06L890.12 477.42L891.36 475.78L892.46 474.14L893.43 472.50L894.30 470.86L895.07 469.22L895.75 467.58L896.35 465.94L896.88 464.30L897.34 462.66L897.75 461.02L898.09 459.38L898.39 457.74L898.63 456.10L898.83 454.46L898.98 452.82L899.09 451.18L899.15 449.54L899.17 447.90L899.15 446.26L899.09 444.62L898.98 442.98L898.83 441.34L898.63 439.70L898.39 438.06L898.09 436.42L897.75 434.78L897.34 433.14L896.88 431.50L896.35 429.86L895.75 428.22L895.07 426.58L894.30 424.94L893.43 423.30L892.46 421.66L891.36 420.02L890.12 418.38L888.71 416.74L888.00 415.10Z" fill="#000"/>
<path d="M850.20 924.20L848.19 925.81L846.42 927.42L844.84 929.03L843.42 930.64L842.15 932.25L841.00 933.86L839.97 935.47L839.04 937.08L838.21 938.69L837.46 940.30L836.80 941.91L836.22 943.52L835.71 945.13L835.28 946.74L834.91 948.35L834.62 949.96L834.39 951.57L834.23 953.18L834.13 954.79L834.10 956.40L834.13 958.01L834.23 959.62L834.39 961.23L834.62 962.84L834.91 964.45L835.28 966.06L835.71 967.67L836.22 969.28L836.80 970.89L837.46 972.50L838.21 974.11L839.04 975.72L839.97 977.33L841.00 978.94L842.15 980.55L843.42 982.16L844.84 983.77L846.42 985.38L848.19 986.99L850.20 988.60L850.20 988.60L849.35 986.99L847.84 985.38L846.52 983.77L845.36 982.16L844.33 980.55L843.42 978.94L842.62 977.33L841.91 975.72L841.28 974.11L840.73 972.50L840.25 970.89L839.83 969.28L839.47 967.67L839.16 966.06L838.91 964.45L838.70 962.84L838.55 961.23L838.44 959.62L838.37 958.01L838.35 956.40L838.37 954.79L838.44 953.18L838.55 951.57L838.70 949.96L838.91 948.35L839.16 946.74L839.47 945.13L839.83 943.52L840.25 941.91L840.73 940.30L841.28 938.69L841.91 937.08L842.62 935.47L843.42 933.86L844.33 932.25L845.36 930.64L846.52 929.03L847.84 927.42L849.35 925.81L850.20 924.20Z" fill="#000"/>
<path d="M887.80 924.20L889.81 925.81L891.58 927.42L893.16 929.03L894.58 930.64L895.85 932.25L897.00 933.86L898.03 935.47L898.96 937.08L899.79 938.69L900.54 940.30L901.20 941.91L901.78 943.52L902.29 945.13L902.72 946.74L903.09 948.35L903.38 949.96L903.61 951.57L903.77 953.18L903.87 954.79L903.90 956.40L903.87 958.01L903.77 959.62L903.61 961.23L903.38 962.84L903.09 964.45L902.72 966.06L902.29 967.67L901.78 969.28L901.20 970.89L900.54 972.50L899.79 974.11L898.96 975.72L898.03 977.33L897.00 978.94L895.85 980.55L894.58 982.16L893.16 983.77L891.58 985.38L889.81 986.99L887.80 988.60L887.80 988.60L888.65 986.99L890.16 985.38L891.48 983.77L892.64 982.16L893.67 980.55L894.58 978.94L895.38 977.33L896.09 975.72L896.72 974.11L897.27 972.50L897.75 970.89L898.17 969.28L898.53 967.67L898.84 966.06L899.09 964.45L899.30 962.84L899.45 961.23L899.56 959.62L899.63 958.01L899.65 956.40L899.63 954.79L899.56 953.18L899.45 951.57L899.30 949.96L899.09 948.35L898.84 946.74L898.53 945.13L898.17 943.52L897.75 941.91L897.27 940.30L896.72 938.69L896.09 937.08L895.38 935.47L894.58 933.86L893.67 932.25L892.64 930.64L891.48 929.03L890.16 927.42L888.65 925.81L887.80 924.20Z" fill="#000"/>
<path d="M41.64 288.81L67.36 310.29" stroke="#000" stroke-width="2.2" fill="none"/>
<path d="M13.02 137.20L62.28 156.50" stroke="#000" stroke-width="2.2" fill="none"/>
<path d="M12.82 678.10L62.08 697.40" stroke="#000" stroke-width="2.2" fill="none"/>
<path d="M86.76 1336.49L105.64 1356.21" stroke="#000" stroke-width="2.2" fill="none"/>
<path d="M48.32 1185.30L97.58 1204.60" stroke="#000" stroke-width="2.2" fill="none"/>
<path d="M1284.26 795.12L1305.34 766.88" stroke="#000" stroke-width="2.2" fill="none"/>
<path d="M1285.06 857.92L1305.74 830.08" stroke="#000" stroke-width="2.2" fill="none"/>
<g fill="#000">
<text transform="translate(23.70,19.30) scale(0.7769,0.6333) translate(-4.00,47.00)" font-family="Liberation Serif" font-style="normal" font-weight="normal" font-size="100">a</text>
<text transform="translate(21.90,535.40) scale(0.6478,0.6129) translate(-0.00,69.00)" font-family="Liberation Serif" font-style="normal" font-weight="normal" font-size="100">b</text>
<text transform="translate(26.70,1067.20) scale(0.6270,0.5771) translate(-4.00,47.00)" font-family="Liberation Serif" font-style="normal" font-weight="normal" font-size="100">c</text>
<text transform="translate(816.10,1054.10) scale(0.6044,0.5643) translate(-4.00,69.00)" font-family="Liberation Serif" font-style="normal" font-weight="normal" font-size="100">d</text>
<text transform="translate(5.00,388.10) rotate(-90) scale(0.8212,0.7925) translate(-5.00,65.00)" font-family="Liberation Serif" font-style="italic" font-weight="normal" font-size="100">V</text>
<text transform="translate(31.30,345.60) rotate(-90) scale(0.6042,0.5348) translate(-1.00,69.00)" font-family="Liberation Serif" font-style="normal" font-weight="normal" font-size="100">h</text>
<text transform="translate(45.30,283.10) rotate(-90) scale(0.5597,0.4979) translate(-0.00,46.00)" font-family="Liberation Serif" font-style="normal" font-weight="normal" font-size="100">w</text>
<text transform="translate(27.00,133.00) rotate(-90) scale(0.5806,0.5062) translate(-4.00,47.00)" font-family="Liberation Serif" font-style="normal" font-weight="normal" font-size="100">s</text>
<text transform="translate(27.80,200.40) rotate(-90) scale(0.5473,0.4915) translate(-2.00,47.00)" font-family="Liberation Serif" font-style="normal" font-weight="normal" font-size="100">m</text>
<text transform="translate(5.10,865.00) rotate(-90) scale(0.8152,0.7910) translate(-5.00,65.00)" font-family="Liberation Serif" font-style="italic" font-weight="normal" font-size="100">V</text>
<text transform="translate(26.80,673.90) rotate(-90) scale(0.5806,0.5062) translate(-4.00,47.00)" font-family="Liberation Serif" font-style="normal" font-weight="normal" font-size="100">s</text>
<text transform="translate(27.60,741.30) rotate(-90) scale(0.5473,0.4915) translate(-2.00,47.00)" font-family="Liberation Serif" font-style="normal" font-weight="normal" font-size="100">m</text>
<text transform="translate(49.30,1429.30) rotate(-90) scale(0.7394,0.7149) translate(-5.00,65.00)" font-family="Liberation Serif" font-style="italic" font-weight="normal" font-size="100">V</text>
<text transform="translate(72.80,1389.60) rotate(-90) scale(0.6354,0.4870) translate(-1.00,69.00)" font-family="Liberation Serif" font-style="normal" font-weight="normal" font-size="100">h</text>
<text transform="translate(85.00,1331.60) rotate(-90) scale(0.4806,0.4553) translate(-0.00,46.00)" font-family="Liberation Serif" font-style="normal" font-weight="normal" font-size="100">w</text>
<text transform="translate(62.30,1181.10) rotate(-90) scale(0.5806,0.5062) translate(-4.00,47.00)" font-family="Liberation Serif" font-style="normal" font-weight="normal" font-size="100">s</text>
<text transform="translate(63.10,1248.50) rotate(-90) scale(0.5473,0.4915) translate(-2.00,47.00)" font-family="Liberation Serif" font-style="normal" font-weight="normal" font-size="100">m</text>
<text transform="translate(870.30,1378.50) rotate(-90) scale(0.7444,0.6158) translate(-4.00,48.00)" font-family="Liberation Serif" font-style="normal" font-weight="normal" font-size="100">∞</text>
<text transform="translate(816.30,1318.40) rotate(-90) scale(0.5750,0.5433) translate(-4.00,69.00)" font-family="Liberation Serif" font-style="normal" font-weight="normal" font-size="100">(p)</text>
<text transform="translate(797.30,967.10) scale(0.4234,0.3789) translate(-4.00,70.00)" font-family="Liberation Sans" font-style="normal" font-weight="bold" font-size="100">0</text>
<text transform="translate(252.80,308.70) scale(0.5313,0.4895) translate(-2.00,65.00)" font-family="Liberation Serif" font-style="normal" font-weight="normal" font-size="100">Transient regime</text>
<text transform="translate(942.50,309.30) scale(0.5229,0.5047) translate(-7.00,65.00)" font-family="Liberation Serif" font-style="normal" font-weight="normal" font-size="100">Stationary regime</text>
<text transform="translate(1139.30,242.00) scale(0.7524,0.5789) translate(-4.00,48.00)" font-family="Liberation Serif" font-style="normal" font-weight="normal" font-size="100">∞</text>
<text transform="translate(1198.70,187.30) scale(0.5861,0.5333) translate(-4.00,69.00)" font-family="Liberation Serif" font-style="normal" font-weight="normal" font-size="100">(p)</text>
<text transform="translate(1250.00,755.40) scale(0.6083,0.5884) translate(-1.00,69.00)" font-family="Liberation Serif" font-style="normal" font-weight="normal" font-size="100">h</text>
<text transform="translate(1310.00,771.00) scale(0.5500,0.5404) translate(-0.00,46.00)" font-family="Liberation Serif" font-style="normal" font-weight="normal" font-size="100">w</text>
<text transform="translate(1250.80,818.80) scale(0.6261,0.5771) translate(-0.00,69.00)" font-family="Liberation Serif" font-style="normal" font-weight="normal" font-size="100">b</text>
<text transform="translate(1310.80,834.00) scale(0.5556,0.5447) translate(-0.00,46.00)" font-family="Liberation Serif" font-style="normal" font-weight="normal" font-size="100">w</text>
</g>
<path d="M775.8 375.8V12.1" stroke="#aaaaaa" stroke-width="4.3" fill="none" stroke-dasharray="29.5 29"/>
<path d="M1147.5 375.8V12.1" stroke="#aaaaaa" stroke-width="4.3" fill="none" stroke-dasharray="29.5 29"/>
<path d="M173.5 517.5L777 377" stroke="#aaaaaa" stroke-width="4.3" fill="none" stroke-dasharray="30.5 30.3"/>
<path d="M1476.8 517.5L1147.5 379.5" stroke="#aaaaaa" stroke-width="4.3" fill="none" stroke-dasharray="30.5 30.3"/>
</svg></body></html>
